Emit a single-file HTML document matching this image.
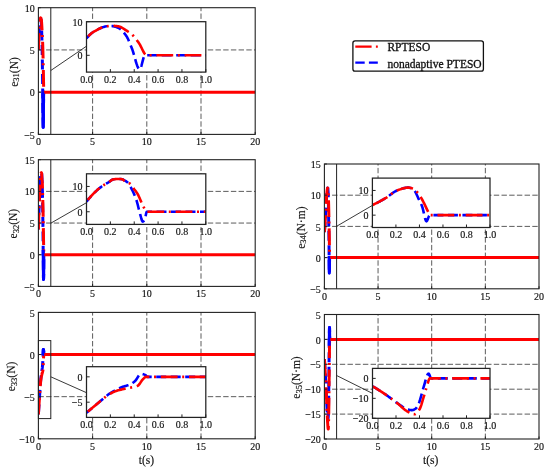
<!DOCTYPE html>
<html><head><meta charset="utf-8"><title>Estimation errors</title>
<style>
html,body{margin:0;padding:0;background:#fff;}
body{width:550px;height:469px;overflow:hidden;}
svg{display:block;}
.tk{font-family:'Liberation Serif','Times New Roman',serif;font-size:10px;fill:#111;stroke:#111;stroke-width:0.15px;}
.yl{font-family:'Liberation Serif','Times New Roman',serif;font-size:11.5px;fill:#111;stroke:#111;stroke-width:0.15px;}
.sub{font-size:8.5px;}
.lg{font-family:'Liberation Serif','Times New Roman',serif;font-size:11.5px;fill:#111;stroke:#111;stroke-width:0.3px;}
</style></head><body>
<svg width="550" height="469" viewBox="0 0 550 469">
<rect width="550" height="469" fill="#fff"/>
<g>
<line x1="92.6" y1="134.4" x2="92.6" y2="7.7" stroke="#5c5c5c" stroke-width="1" stroke-dasharray="5.4 2.3"/>
<line x1="146.8" y1="134.4" x2="146.8" y2="7.7" stroke="#5c5c5c" stroke-width="1" stroke-dasharray="5.4 2.3"/>
<line x1="201" y1="134.4" x2="201" y2="7.7" stroke="#5c5c5c" stroke-width="1" stroke-dasharray="5.4 2.3"/>
<line x1="38.4" y1="92.17" x2="255.2" y2="92.17" stroke="#5c5c5c" stroke-width="1" stroke-dasharray="5.4 2.3"/>
<line x1="38.4" y1="49.93" x2="255.2" y2="49.93" stroke="#5c5c5c" stroke-width="1" stroke-dasharray="5.4 2.3"/>
<clipPath id="m1"><rect x="38.4" y="7.7" width="216.8" height="126.7"/></clipPath>
<g clip-path="url(#m1)">
<path d="M38.4 49.93 L38.45 48.05 L38.51 46.23 L38.56 44.48 L38.62 42.82 L38.67 41.24 L38.73 39.76 L38.78 38.38 L38.83 37.12 L38.89 35.97 L38.94 34.93 L39 33.96 L39.05 33.06 L39.1 32.21 L39.16 31.4 L39.21 30.6 L39.27 29.8 L39.32 28.98 L39.38 28.14 L39.43 27.27 L39.48 26.4 L39.54 25.57 L39.59 24.79 L39.65 24.11 L39.7 23.53 L39.75 22.97 L39.81 22.41 L39.86 21.87 L39.92 21.34 L39.97 20.85 L40.03 20.39 L40.08 19.98 L40.13 19.63 L40.19 19.33 L40.24 19.11 L40.3 18.97 L40.35 18.9 L40.41 18.84 L40.46 18.78 L40.51 18.74 L40.57 18.71 L40.62 18.69 L40.68 18.68 L40.73 18.73 L40.78 18.87 L40.84 19.1 L40.89 19.41 L40.95 19.78 L41 20.22 L41.06 20.72 L41.11 21.26 L41.16 21.84 L41.22 22.46 L41.27 23.09 L41.33 23.75 L41.38 24.5 L41.44 25.42 L41.49 26.51 L41.54 27.75 L41.6 29.13 L41.65 30.65 L41.71 32.28 L41.76 34.03 L41.81 35.87 L41.87 37.8 L41.92 39.82 L41.98 41.9 L42.03 44.07 L42.09 46.58 L42.14 49.45 L42.19 52.61 L42.25 56.01 L42.3 59.58 L42.36 63.27 L42.41 67.01 L42.46 70.75 L42.52 74.43 L42.57 78.39 L42.63 82.94 L42.68 87.92 L42.74 93.17 L42.79 98.54 L42.84 103.89 L42.9 109.05 L42.95 113.87 L43.01 118.21 L43.06 121.91 L43.12 124.81 L43.17 126.76 L43.22 127.62 L43.28 126.82 L43.33 123.8 L43.39 119.15 L43.44 113.51 L43.49 107.49 L43.55 101.72 L43.6 96.83 L43.66 93.44 L43.71 92.17 L43.77 92.17 L43.82 92.17 L43.87 92.17 L43.93 92.17 L43.98 92.17 L44.04 92.17 L44.09 92.17 L44.15 92.17 L44.2 92.17 L44.25 92.17 L44.31 92.17 L44.36 92.17 L44.42 92.17 L44.47 92.17 L44.52 92.17 L44.58 92.17 L44.63 92.17 L44.69 92.17 L44.74 92.17 L44.8 92.17 L44.85 92.17 L44.9 92.17" fill="none" stroke="#0000ff" stroke-width="3.0" stroke-dasharray="10 4.5" stroke-linejoin="round"/>
<path d="M38.4 49.93 L38.45 48.05 L38.51 46.23 L38.56 44.48 L38.62 42.82 L38.67 41.24 L38.73 39.76 L38.78 38.38 L38.83 37.12 L38.89 35.97 L38.94 34.93 L39 33.96 L39.05 33.06 L39.1 32.21 L39.16 31.4 L39.21 30.6 L39.27 29.8 L39.32 28.98 L39.38 28.14 L39.43 27.27 L39.48 26.4 L39.54 25.57 L39.59 24.79 L39.65 24.11 L39.7 23.53 L39.75 22.99 L39.81 22.47 L39.86 21.98 L39.92 21.51 L39.97 21.07 L40.03 20.65 L40.08 20.26 L40.13 19.91 L40.19 19.58 L40.24 19.29 L40.3 19.03 L40.35 18.8 L40.41 18.56 L40.46 18.34 L40.51 18.14 L40.57 17.98 L40.62 17.87 L40.68 17.84 L40.73 17.85 L40.78 17.89 L40.84 17.97 L40.89 18.06 L40.95 18.18 L41 18.32 L41.06 18.48 L41.11 18.66 L41.16 18.86 L41.22 19.07 L41.27 19.29 L41.33 19.53 L41.38 19.84 L41.44 20.3 L41.49 20.88 L41.54 21.58 L41.6 22.37 L41.65 23.23 L41.71 24.15 L41.76 25.12 L41.81 26.12 L41.87 27.12 L41.92 28.12 L41.98 29.09 L42.03 30.03 L42.09 30.97 L42.14 31.93 L42.19 32.9 L42.25 33.91 L42.3 34.95 L42.36 36.03 L42.41 37.17 L42.46 38.36 L42.52 39.61 L42.57 40.94 L42.63 42.35 L42.68 43.91 L42.74 45.6 L42.79 47.41 L42.84 49.31 L42.9 51.29 L42.95 53.33 L43.01 55.42 L43.06 57.53 L43.12 59.65 L43.17 61.76 L43.22 64.06 L43.28 66.7 L43.33 69.59 L43.39 72.64 L43.44 75.76 L43.49 78.86 L43.55 81.84 L43.6 84.61 L43.66 87.09 L43.71 89.17 L43.77 90.77 L43.82 91.8 L43.87 92.17 L43.93 92.17 L43.98 92.17 L44.04 92.17 L44.09 92.17 L44.15 92.17 L44.2 92.17 L44.25 92.17 L44.31 92.17 L44.36 92.17 L44.42 92.17 L44.47 92.17 L44.52 92.17 L44.58 92.17 L44.63 92.17 L44.69 92.17 L44.74 92.17 L44.8 92.17 L44.85 92.17 L44.9 92.17" fill="none" stroke="#ff0000" stroke-width="3.0" stroke-dasharray="16.8 4.6 2 4.8" stroke-linejoin="round"/>
<path d="M42.74 93.17 L42.76 95.85 L42.79 98.54 L42.82 101.23 L42.84 103.89 L42.87 106.5 L42.9 109.05 L42.93 111.51 L42.95 113.87 L42.98 116.11 L43.01 118.21 L43.03 120.15 L43.06 121.91 L43.09 123.47 L43.12 124.81 L43.14 125.91 L43.17 126.76 L43.2 127.34 L43.22 127.62 L43.25 127.52 L43.28 126.82 L43.31 125.55 L43.33 123.8 L43.36 121.64 L43.39 119.15 L43.41 116.42 L43.44 113.51 L43.47 110.51 L43.49 107.49 L43.52 104.54 L43.55 101.72 L43.58 99.13 L43.6 96.83 L43.63 94.91 L43.66 93.44 L43.68 92.5 L43.71 92.17 L43.74 92.17 L43.77 92.17 L43.79 92.17 L43.82 92.17" fill="none" stroke="#0000ff" stroke-width="3.0" stroke-linejoin="round"/>
<line x1="44.36" y1="92.17" x2="255.2" y2="92.17" stroke="#ff0000" stroke-width="3.0"/>
</g>
<line x1="50.8" y1="7.7" x2="50.8" y2="134.4" stroke="#222" stroke-width="1"/>
<line x1="50.8" y1="70.5" x2="86.5" y2="46.2" stroke="#222" stroke-width="0.9"/>
<rect x="38.4" y="7.7" width="216.8" height="126.7" fill="none" stroke="#222" stroke-width="1.1"/>
<line x1="38.4" y1="134.4" x2="38.4" y2="131.9" stroke="#222" stroke-width="1"/>
<text x="38.4" y="145.2" text-anchor="middle" class="tk">0</text>
<line x1="92.6" y1="134.4" x2="92.6" y2="131.9" stroke="#222" stroke-width="1"/>
<text x="92.6" y="145.2" text-anchor="middle" class="tk">5</text>
<line x1="146.8" y1="134.4" x2="146.8" y2="131.9" stroke="#222" stroke-width="1"/>
<text x="146.8" y="145.2" text-anchor="middle" class="tk">10</text>
<line x1="201" y1="134.4" x2="201" y2="131.9" stroke="#222" stroke-width="1"/>
<text x="201" y="145.2" text-anchor="middle" class="tk">15</text>
<line x1="255.2" y1="134.4" x2="255.2" y2="131.9" stroke="#222" stroke-width="1"/>
<text x="255.2" y="145.2" text-anchor="middle" class="tk">20</text>
<line x1="38.4" y1="134.4" x2="40.9" y2="134.4" stroke="#222" stroke-width="1"/>
<text x="34.8" y="138.5" text-anchor="end" class="tk">−5</text>
<line x1="38.4" y1="92.17" x2="40.9" y2="92.17" stroke="#222" stroke-width="1"/>
<text x="34.8" y="96.27" text-anchor="end" class="tk">0</text>
<line x1="38.4" y1="49.93" x2="40.9" y2="49.93" stroke="#222" stroke-width="1"/>
<text x="34.8" y="54.03" text-anchor="end" class="tk">5</text>
<line x1="38.4" y1="7.7" x2="40.9" y2="7.7" stroke="#222" stroke-width="1"/>
<text x="34.8" y="11.8" text-anchor="end" class="tk">10</text>
<text transform="translate(18.15 72) rotate(-90)" text-anchor="middle" class="yl">e<tspan class="sub" dy="1.2">31</tspan><tspan dy="-1.2">(N)</tspan></text>
<rect x="86.5" y="21.7" width="119.3" height="50.4" fill="#fff"/>
<clipPath id="c1"><rect x="86.5" y="21.7" width="119.3" height="50.4"/></clipPath>
<path clip-path="url(#c1)" d="M86.5 38.5 L87.1 37.75 L87.69 37.03 L88.29 36.33 L88.89 35.67 L89.48 35.04 L90.08 34.45 L90.68 33.91 L91.27 33.4 L91.87 32.95 L92.47 32.53 L93.06 32.15 L93.66 31.79 L94.25 31.45 L94.85 31.13 L95.45 30.81 L96.04 30.49 L96.64 30.17 L97.24 29.83 L97.83 29.48 L98.43 29.14 L99.03 28.81 L99.62 28.5 L100.22 28.23 L100.82 28 L101.41 27.77 L102.01 27.55 L102.61 27.34 L103.2 27.13 L103.8 26.93 L104.39 26.75 L104.99 26.59 L105.59 26.44 L106.18 26.33 L106.78 26.24 L107.38 26.18 L107.97 26.15 L108.57 26.13 L109.17 26.11 L109.76 26.09 L110.36 26.08 L110.96 26.07 L111.55 26.07 L112.15 26.09 L112.75 26.14 L113.34 26.24 L113.94 26.36 L114.54 26.51 L115.13 26.68 L115.73 26.88 L116.33 27.09 L116.92 27.33 L117.52 27.57 L118.11 27.82 L118.71 28.08 L119.31 28.38 L119.9 28.75 L120.5 29.18 L121.1 29.68 L121.69 30.23 L122.29 30.83 L122.89 31.48 L123.48 32.17 L124.08 32.91 L124.68 33.68 L125.27 34.48 L125.87 35.3 L126.47 36.17 L127.06 37.17 L127.66 38.31 L128.25 39.56 L128.85 40.92 L129.45 42.34 L130.04 43.8 L130.64 45.29 L131.24 46.78 L131.83 48.24 L132.43 49.82 L133.03 51.63 L133.62 53.61 L134.22 55.7 L134.82 57.84 L135.41 59.96 L136.01 62.02 L136.61 63.94 L137.2 65.66 L137.8 67.13 L138.4 68.28 L138.99 69.06 L139.59 69.4 L140.19 69.08 L140.78 67.88 L141.38 66.04 L141.97 63.79 L142.57 61.4 L143.17 59.1 L143.76 57.16 L144.36 55.81 L144.96 55.3 L145.55 55.3 L146.15 55.3 L146.75 55.3 L147.34 55.3 L147.94 55.3 L148.54 55.3 L149.13 55.3 L149.73 55.3 L150.33 55.3 L150.92 55.3 L151.52 55.3 L152.12 55.3 L152.71 55.3 L153.31 55.3 L153.9 55.3 L154.5 55.3 L155.1 55.3 L155.69 55.3 L156.29 55.3 L156.89 55.3 L157.48 55.3 L158.08 55.3 L158.68 55.3 L159.27 55.3 L159.87 55.3 L160.47 55.3 L161.06 55.3 L161.66 55.3 L162.26 55.3 L162.85 55.3 L163.45 55.3 L164.05 55.3 L164.64 55.3 L165.24 55.3 L165.83 55.3 L166.43 55.3 L167.03 55.3 L167.62 55.3 L168.22 55.3 L168.82 55.3 L169.41 55.3 L170.01 55.3 L170.61 55.3 L171.2 55.3 L171.8 55.3 L172.4 55.3 L172.99 55.3 L173.59 55.3 L174.19 55.3 L174.78 55.3 L175.38 55.3 L175.98 55.3 L176.57 55.3 L177.17 55.3 L177.76 55.3 L178.36 55.3 L178.96 55.3 L179.55 55.3 L180.15 55.3 L180.75 55.3 L181.34 55.3 L181.94 55.3 L182.54 55.3 L183.13 55.3 L183.73 55.3 L184.33 55.3 L184.92 55.3 L185.52 55.3 L186.12 55.3 L186.71 55.3 L187.31 55.3 L187.91 55.3 L188.5 55.3 L189.1 55.3 L189.69 55.3 L190.29 55.3 L190.89 55.3 L191.48 55.3 L192.08 55.3 L192.68 55.3 L193.27 55.3 L193.87 55.3 L194.47 55.3 L195.06 55.3 L195.66 55.3 L196.26 55.3 L196.85 55.3 L197.45 55.3 L198.05 55.3 L198.64 55.3 L199.24 55.3 L199.84 55.3 L200.43 55.3 L201.03 55.3 L201.62 55.3 L202.22 55.3 L202.82 55.3 L203.41 55.3 L204.01 55.3 L204.61 55.3 L205.2 55.3 L205.8 55.3" fill="none" stroke="#0000ff" stroke-width="2.6" stroke-dasharray="10 4.5" stroke-dashoffset="0.02" stroke-linejoin="round"/>
<path clip-path="url(#c1)" d="M86.5 38.5 L87.1 37.75 L87.69 37.03 L88.29 36.33 L88.89 35.67 L89.48 35.04 L90.08 34.45 L90.68 33.91 L91.27 33.4 L91.87 32.95 L92.47 32.53 L93.06 32.15 L93.66 31.79 L94.25 31.45 L94.85 31.13 L95.45 30.81 L96.04 30.49 L96.64 30.17 L97.24 29.83 L97.83 29.48 L98.43 29.14 L99.03 28.81 L99.62 28.5 L100.22 28.23 L100.82 28 L101.41 27.78 L102.01 27.58 L102.61 27.38 L103.2 27.19 L103.8 27.02 L104.39 26.85 L104.99 26.7 L105.59 26.56 L106.18 26.43 L106.78 26.31 L107.38 26.21 L107.97 26.11 L108.57 26.02 L109.17 25.93 L109.76 25.85 L110.36 25.79 L110.96 25.75 L111.55 25.73 L112.15 25.74 L112.75 25.76 L113.34 25.78 L113.94 25.82 L114.54 25.87 L115.13 25.93 L115.73 25.99 L116.33 26.06 L116.92 26.14 L117.52 26.22 L118.11 26.31 L118.71 26.4 L119.31 26.53 L119.9 26.71 L120.5 26.94 L121.1 27.22 L121.69 27.53 L122.29 27.88 L122.89 28.25 L123.48 28.63 L124.08 29.03 L124.68 29.43 L125.27 29.82 L125.87 30.21 L126.47 30.58 L127.06 30.96 L127.66 31.34 L128.25 31.73 L128.85 32.13 L129.45 32.54 L130.04 32.97 L130.64 33.42 L131.24 33.9 L131.83 34.39 L132.43 34.92 L133.03 35.48 L133.62 36.1 L134.22 36.78 L134.82 37.5 L135.41 38.25 L136.01 39.04 L136.61 39.85 L137.2 40.68 L137.8 41.52 L138.4 42.37 L138.99 43.2 L139.59 44.12 L140.19 45.17 L140.78 46.32 L141.38 47.53 L141.97 48.78 L142.57 50.01 L143.17 51.19 L143.76 52.3 L144.36 53.28 L144.96 54.11 L145.55 54.75 L146.15 55.16 L146.75 55.3 L147.34 55.3 L147.94 55.3 L148.54 55.3 L149.13 55.3 L149.73 55.3 L150.33 55.3 L150.92 55.3 L151.52 55.3 L152.12 55.3 L152.71 55.3 L153.31 55.3 L153.9 55.3 L154.5 55.3 L155.1 55.3 L155.69 55.3 L156.29 55.3 L156.89 55.3 L157.48 55.3 L158.08 55.3 L158.68 55.3 L159.27 55.3 L159.87 55.3 L160.47 55.3 L161.06 55.3 L161.66 55.3 L162.26 55.3 L162.85 55.3 L163.45 55.3 L164.05 55.3 L164.64 55.3 L165.24 55.3 L165.83 55.3 L166.43 55.3 L167.03 55.3 L167.62 55.3 L168.22 55.3 L168.82 55.3 L169.41 55.3 L170.01 55.3 L170.61 55.3 L171.2 55.3 L171.8 55.3 L172.4 55.3 L172.99 55.3 L173.59 55.3 L174.19 55.3 L174.78 55.3 L175.38 55.3 L175.98 55.3 L176.57 55.3 L177.17 55.3 L177.76 55.3 L178.36 55.3 L178.96 55.3 L179.55 55.3 L180.15 55.3 L180.75 55.3 L181.34 55.3 L181.94 55.3 L182.54 55.3 L183.13 55.3 L183.73 55.3 L184.33 55.3 L184.92 55.3 L185.52 55.3 L186.12 55.3 L186.71 55.3 L187.31 55.3 L187.91 55.3 L188.5 55.3 L189.1 55.3 L189.69 55.3 L190.29 55.3 L190.89 55.3 L191.48 55.3 L192.08 55.3 L192.68 55.3 L193.27 55.3 L193.87 55.3 L194.47 55.3 L195.06 55.3 L195.66 55.3 L196.26 55.3 L196.85 55.3 L197.45 55.3 L198.05 55.3 L198.64 55.3 L199.24 55.3 L199.84 55.3 L200.43 55.3 L201.03 55.3 L201.62 55.3 L202.22 55.3 L202.82 55.3 L203.41 55.3 L204.01 55.3 L204.61 55.3 L205.2 55.3 L205.8 55.3" fill="none" stroke="#ff0000" stroke-width="2.6" stroke-dasharray="16.8 4.6 2 4.8" stroke-dashoffset="25.44" stroke-linejoin="round"/>
<rect x="86.5" y="21.7" width="119.3" height="50.4" fill="none" stroke="#222" stroke-width="1.25"/>
<line x1="86.5" y1="72.1" x2="86.5" y2="69.1" stroke="#222" stroke-width="1"/>
<text x="86.5" y="82.5" text-anchor="middle" class="tk">0.0</text>
<line x1="110.36" y1="72.1" x2="110.36" y2="69.1" stroke="#222" stroke-width="1"/>
<text x="110.36" y="82.5" text-anchor="middle" class="tk">0.2</text>
<line x1="134.22" y1="72.1" x2="134.22" y2="69.1" stroke="#222" stroke-width="1"/>
<text x="134.22" y="82.5" text-anchor="middle" class="tk">0.4</text>
<line x1="158.08" y1="72.1" x2="158.08" y2="69.1" stroke="#222" stroke-width="1"/>
<text x="158.08" y="82.5" text-anchor="middle" class="tk">0.6</text>
<line x1="181.94" y1="72.1" x2="181.94" y2="69.1" stroke="#222" stroke-width="1"/>
<text x="181.94" y="82.5" text-anchor="middle" class="tk">0.8</text>
<line x1="205.8" y1="72.1" x2="205.8" y2="69.1" stroke="#222" stroke-width="1"/>
<text x="205.8" y="82.5" text-anchor="middle" class="tk">1.0</text>
<line x1="86.5" y1="55.3" x2="89.7" y2="55.3" stroke="#222" stroke-width="1"/>
<text x="82.5" y="59.3" text-anchor="end" class="tk">0</text>
<line x1="86.5" y1="21.7" x2="89.7" y2="21.7" stroke="#222" stroke-width="1"/>
<text x="82.5" y="25.7" text-anchor="end" class="tk">10</text>
</g>
<g>
<line x1="92.6" y1="286.4" x2="92.6" y2="159.7" stroke="#5c5c5c" stroke-width="1" stroke-dasharray="5.4 2.3"/>
<line x1="146.8" y1="286.4" x2="146.8" y2="159.7" stroke="#5c5c5c" stroke-width="1" stroke-dasharray="5.4 2.3"/>
<line x1="201" y1="286.4" x2="201" y2="159.7" stroke="#5c5c5c" stroke-width="1" stroke-dasharray="5.4 2.3"/>
<line x1="38.4" y1="254.72" x2="255.2" y2="254.72" stroke="#5c5c5c" stroke-width="1" stroke-dasharray="5.4 2.3"/>
<line x1="38.4" y1="223.05" x2="255.2" y2="223.05" stroke="#5c5c5c" stroke-width="1" stroke-dasharray="5.4 2.3"/>
<line x1="38.4" y1="191.38" x2="255.2" y2="191.38" stroke="#5c5c5c" stroke-width="1" stroke-dasharray="5.4 2.3"/>
<clipPath id="m2"><rect x="38.4" y="159.7" width="216.8" height="126.7"/></clipPath>
<g clip-path="url(#m2)">
<path d="M38.4 229.58 L38.45 227.64 L38.51 225.75 L38.56 223.89 L38.62 222.06 L38.67 220.27 L38.73 218.53 L38.78 216.82 L38.83 215.16 L38.89 213.54 L38.94 211.95 L39 210.39 L39.05 208.86 L39.1 207.37 L39.16 205.91 L39.21 204.5 L39.27 203.11 L39.32 201.77 L39.38 200.47 L39.43 199.18 L39.48 197.92 L39.54 196.68 L39.59 195.47 L39.65 194.29 L39.7 193.13 L39.75 192.01 L39.81 190.92 L39.86 189.86 L39.92 188.84 L39.97 187.86 L40.03 186.93 L40.08 186.04 L40.13 185.17 L40.19 184.32 L40.24 183.47 L40.3 182.62 L40.35 181.76 L40.41 180.87 L40.46 179.87 L40.51 178.79 L40.57 177.68 L40.62 176.61 L40.68 175.61 L40.73 174.76 L40.78 174.1 L40.84 173.68 L40.89 173.48 L40.95 173.29 L41 173.12 L41.06 172.97 L41.11 172.85 L41.16 172.75 L41.22 172.68 L41.27 172.63 L41.33 172.62 L41.38 172.67 L41.44 172.76 L41.49 172.91 L41.54 173.1 L41.6 173.33 L41.65 173.58 L41.71 173.98 L41.76 174.66 L41.81 175.53 L41.87 176.45 L41.92 177.32 L41.98 178.19 L42.03 179.13 L42.09 180.22 L42.14 181.52 L42.19 183.17 L42.25 185.16 L42.3 187.46 L42.36 189.99 L42.41 192.73 L42.46 195.6 L42.52 198.57 L42.57 201.58 L42.63 204.61 L42.68 207.81 L42.74 211.21 L42.79 214.82 L42.84 218.66 L42.9 222.75 L42.95 227.13 L43.01 232.19 L43.06 237.9 L43.12 243.97 L43.17 250.1 L43.22 255.99 L43.28 261.35 L43.33 266.57 L43.39 272.22 L43.44 276.95 L43.49 279.35 L43.55 279.11 L43.6 277.94 L43.66 276.13 L43.71 273.74 L43.77 267.06 L43.82 258.78 L43.87 254.72 L43.93 254.72 L43.98 254.72 L44.04 254.72 L44.09 254.72 L44.15 254.72 L44.2 254.72 L44.25 254.72 L44.31 254.72 L44.36 254.72 L44.42 254.72 L44.47 254.72 L44.52 254.72 L44.58 254.72 L44.63 254.72 L44.69 254.72 L44.74 254.72 L44.8 254.72 L44.85 254.72 L44.9 254.72" fill="none" stroke="#0000ff" stroke-width="3.0" stroke-dasharray="10 4.5" stroke-linejoin="round"/>
<path d="M38.4 229.58 L38.45 227.64 L38.51 225.75 L38.56 223.89 L38.62 222.06 L38.67 220.27 L38.73 218.53 L38.78 216.82 L38.83 215.16 L38.89 213.54 L38.94 211.95 L39 210.39 L39.05 208.86 L39.1 207.37 L39.16 205.91 L39.21 204.5 L39.27 203.11 L39.32 201.77 L39.38 200.47 L39.43 199.18 L39.48 197.92 L39.54 196.68 L39.59 195.47 L39.65 194.29 L39.7 193.13 L39.75 192.01 L39.81 190.92 L39.86 189.86 L39.92 188.84 L39.97 187.86 L40.03 186.93 L40.08 186.04 L40.13 185.17 L40.19 184.32 L40.24 183.47 L40.3 182.62 L40.35 181.76 L40.41 180.87 L40.46 179.87 L40.51 178.79 L40.57 177.68 L40.62 176.61 L40.68 175.61 L40.73 174.76 L40.78 174.1 L40.84 173.68 L40.89 173.48 L40.95 173.29 L41 173.12 L41.06 172.97 L41.11 172.85 L41.16 172.75 L41.22 172.68 L41.27 172.63 L41.33 172.62 L41.38 172.66 L41.44 172.76 L41.49 172.9 L41.54 173.09 L41.6 173.31 L41.65 173.58 L41.71 174.1 L41.76 175.16 L41.81 176.46 L41.87 177.68 L41.92 178.58 L41.98 179.32 L42.03 179.98 L42.09 180.59 L42.14 181.19 L42.19 181.84 L42.25 182.56 L42.3 183.4 L42.36 184.41 L42.41 185.75 L42.46 187.51 L42.52 189.55 L42.57 191.77 L42.63 194.04 L42.68 196.24 L42.74 198.29 L42.79 200.25 L42.84 202.2 L42.9 204.2 L42.95 206.29 L43.01 208.55 L43.06 211.01 L43.12 213.86 L43.17 217.1 L43.22 220.55 L43.28 224.07 L43.33 227.47 L43.39 230.75 L43.44 234.11 L43.49 237.46 L43.55 240.66 L43.6 243.62 L43.66 246.29 L43.71 249.16 L43.77 251.89 L43.82 253.92 L43.87 254.72 L43.93 254.72 L43.98 254.72 L44.04 254.72 L44.09 254.72 L44.15 254.72 L44.2 254.72 L44.25 254.72 L44.31 254.72 L44.36 254.72 L44.42 254.72 L44.47 254.72 L44.52 254.72 L44.58 254.72 L44.63 254.72 L44.69 254.72 L44.74 254.72 L44.8 254.72 L44.85 254.72 L44.9 254.72" fill="none" stroke="#ff0000" stroke-width="3.0" stroke-dasharray="16.8 4.6 2 4.8" stroke-linejoin="round"/>
<path d="M43.17 250.1 L43.19 252.21 L43.21 254.27 L43.23 256.28 L43.25 258.22 L43.26 260.07 L43.28 261.84 L43.3 263.58 L43.32 265.45 L43.34 267.42 L43.36 269.42 L43.38 271.4 L43.4 273.29 L43.42 275.03 L43.44 276.56 L43.45 277.82 L43.47 278.76 L43.49 279.31 L43.51 279.43 L43.53 279.33 L43.55 279.11 L43.57 278.79 L43.59 278.37 L43.61 277.86 L43.62 277.28 L43.64 276.63 L43.66 275.92 L43.68 275.16 L43.7 274.36 L43.72 273.07 L43.74 270.96 L43.76 268.31 L43.78 265.35 L43.8 262.33 L43.81 259.52 L43.83 257.14 L43.85 255.47 L43.87 254.74 L43.89 254.72 L43.91 254.72 L43.93 254.72" fill="none" stroke="#0000ff" stroke-width="3.0" stroke-linejoin="round"/>
<line x1="44.36" y1="254.72" x2="255.2" y2="254.72" stroke="#ff0000" stroke-width="3.0"/>
</g>
<line x1="50.8" y1="159.7" x2="50.8" y2="286.4" stroke="#222" stroke-width="1"/>
<line x1="50.8" y1="223.2" x2="86.5" y2="202.7" stroke="#222" stroke-width="0.9"/>
<rect x="38.4" y="159.7" width="216.8" height="126.7" fill="none" stroke="#222" stroke-width="1.1"/>
<line x1="38.4" y1="286.4" x2="38.4" y2="283.9" stroke="#222" stroke-width="1"/>
<text x="38.4" y="297.2" text-anchor="middle" class="tk">0</text>
<line x1="92.6" y1="286.4" x2="92.6" y2="283.9" stroke="#222" stroke-width="1"/>
<text x="92.6" y="297.2" text-anchor="middle" class="tk">5</text>
<line x1="146.8" y1="286.4" x2="146.8" y2="283.9" stroke="#222" stroke-width="1"/>
<text x="146.8" y="297.2" text-anchor="middle" class="tk">10</text>
<line x1="201" y1="286.4" x2="201" y2="283.9" stroke="#222" stroke-width="1"/>
<text x="201" y="297.2" text-anchor="middle" class="tk">15</text>
<line x1="255.2" y1="286.4" x2="255.2" y2="283.9" stroke="#222" stroke-width="1"/>
<text x="255.2" y="297.2" text-anchor="middle" class="tk">20</text>
<line x1="38.4" y1="286.4" x2="40.9" y2="286.4" stroke="#222" stroke-width="1"/>
<text x="34.8" y="290.5" text-anchor="end" class="tk">−5</text>
<line x1="38.4" y1="254.72" x2="40.9" y2="254.72" stroke="#222" stroke-width="1"/>
<text x="34.8" y="258.82" text-anchor="end" class="tk">0</text>
<line x1="38.4" y1="223.05" x2="40.9" y2="223.05" stroke="#222" stroke-width="1"/>
<text x="34.8" y="227.15" text-anchor="end" class="tk">5</text>
<line x1="38.4" y1="191.38" x2="40.9" y2="191.38" stroke="#222" stroke-width="1"/>
<text x="34.8" y="195.47" text-anchor="end" class="tk">10</text>
<line x1="38.4" y1="159.7" x2="40.9" y2="159.7" stroke="#222" stroke-width="1"/>
<text x="34.8" y="163.8" text-anchor="end" class="tk">15</text>
<text transform="translate(17.3 223.6) rotate(-90)" text-anchor="middle" class="yl">e<tspan class="sub" dy="1.2">32</tspan><tspan dy="-1.2">(N)</tspan></text>
<rect x="86.5" y="173.8" width="119.3" height="50.6" fill="#fff"/>
<clipPath id="c2"><rect x="86.5" y="173.8" width="119.3" height="50.6"/></clipPath>
<path clip-path="url(#c2)" d="M86.5 201.71 L87.1 200.93 L87.69 200.18 L88.29 199.43 L88.89 198.7 L89.48 197.99 L90.08 197.29 L90.68 196.61 L91.27 195.95 L91.87 195.3 L92.47 194.67 L93.06 194.04 L93.66 193.43 L94.25 192.84 L94.85 192.26 L95.45 191.69 L96.04 191.14 L96.64 190.6 L97.24 190.08 L97.83 189.57 L98.43 189.06 L99.03 188.57 L99.62 188.09 L100.22 187.61 L100.82 187.15 L101.41 186.7 L102.01 186.27 L102.61 185.85 L103.2 185.44 L103.8 185.05 L104.39 184.68 L104.99 184.32 L105.59 183.97 L106.18 183.63 L106.78 183.29 L107.38 182.96 L107.97 182.61 L108.57 182.26 L109.17 181.86 L109.76 181.42 L110.36 180.98 L110.96 180.55 L111.55 180.16 L112.15 179.81 L112.75 179.55 L113.34 179.39 L113.94 179.3 L114.54 179.23 L115.13 179.16 L115.73 179.1 L116.33 179.05 L116.92 179.01 L117.52 178.98 L118.11 178.97 L118.71 178.96 L119.31 178.98 L119.9 179.02 L120.5 179.08 L121.1 179.15 L121.69 179.24 L122.29 179.34 L122.89 179.5 L123.48 179.78 L124.08 180.12 L124.68 180.49 L125.27 180.84 L125.87 181.18 L126.47 181.56 L127.06 181.99 L127.66 182.52 L128.25 183.17 L128.85 183.97 L129.45 184.88 L130.04 185.9 L130.64 186.99 L131.24 188.14 L131.83 189.32 L132.43 190.52 L133.03 191.74 L133.62 193.01 L134.22 194.37 L134.82 195.81 L135.41 197.35 L136.01 198.98 L136.61 200.73 L137.2 202.75 L137.8 205.03 L138.4 207.46 L138.99 209.9 L139.59 212.26 L140.19 214.39 L140.78 216.48 L141.38 218.74 L141.97 220.63 L142.57 221.59 L143.17 221.49 L143.76 221.02 L144.36 220.3 L144.96 219.34 L145.55 216.68 L146.15 213.37 L146.75 211.75 L147.34 211.75 L147.94 211.75 L148.54 211.75 L149.13 211.75 L149.73 211.75 L150.33 211.75 L150.92 211.75 L151.52 211.75 L152.12 211.75 L152.71 211.75 L153.31 211.75 L153.9 211.75 L154.5 211.75 L155.1 211.75 L155.69 211.75 L156.29 211.75 L156.89 211.75 L157.48 211.75 L158.08 211.75 L158.68 211.75 L159.27 211.75 L159.87 211.75 L160.47 211.75 L161.06 211.75 L161.66 211.75 L162.26 211.75 L162.85 211.75 L163.45 211.75 L164.05 211.75 L164.64 211.75 L165.24 211.75 L165.83 211.75 L166.43 211.75 L167.03 211.75 L167.62 211.75 L168.22 211.75 L168.82 211.75 L169.41 211.75 L170.01 211.75 L170.61 211.75 L171.2 211.75 L171.8 211.75 L172.4 211.75 L172.99 211.75 L173.59 211.75 L174.19 211.75 L174.78 211.75 L175.38 211.75 L175.98 211.75 L176.57 211.75 L177.17 211.75 L177.76 211.75 L178.36 211.75 L178.96 211.75 L179.55 211.75 L180.15 211.75 L180.75 211.75 L181.34 211.75 L181.94 211.75 L182.54 211.75 L183.13 211.75 L183.73 211.75 L184.33 211.75 L184.92 211.75 L185.52 211.75 L186.12 211.75 L186.71 211.75 L187.31 211.75 L187.91 211.75 L188.5 211.75 L189.1 211.75 L189.69 211.75 L190.29 211.75 L190.89 211.75 L191.48 211.75 L192.08 211.75 L192.68 211.75 L193.27 211.75 L193.87 211.75 L194.47 211.75 L195.06 211.75 L195.66 211.75 L196.26 211.75 L196.85 211.75 L197.45 211.75 L198.05 211.75 L198.64 211.75 L199.24 211.75 L199.84 211.75 L200.43 211.75 L201.03 211.75 L201.62 211.75 L202.22 211.75 L202.82 211.75 L203.41 211.75 L204.01 211.75 L204.61 211.75 L205.2 211.75 L205.8 211.75" fill="none" stroke="#0000ff" stroke-width="2.6" stroke-dasharray="10 4.5" stroke-dashoffset="2.33" stroke-linejoin="round"/>
<path clip-path="url(#c2)" d="M86.5 201.71 L87.1 200.93 L87.69 200.18 L88.29 199.43 L88.89 198.7 L89.48 197.99 L90.08 197.29 L90.68 196.61 L91.27 195.95 L91.87 195.3 L92.47 194.67 L93.06 194.04 L93.66 193.43 L94.25 192.84 L94.85 192.26 L95.45 191.69 L96.04 191.14 L96.64 190.6 L97.24 190.08 L97.83 189.57 L98.43 189.06 L99.03 188.57 L99.62 188.09 L100.22 187.61 L100.82 187.15 L101.41 186.7 L102.01 186.27 L102.61 185.85 L103.2 185.44 L103.8 185.05 L104.39 184.68 L104.99 184.32 L105.59 183.97 L106.18 183.63 L106.78 183.29 L107.38 182.96 L107.97 182.61 L108.57 182.26 L109.17 181.86 L109.76 181.42 L110.36 180.98 L110.96 180.55 L111.55 180.16 L112.15 179.81 L112.75 179.55 L113.34 179.39 L113.94 179.3 L114.54 179.23 L115.13 179.16 L115.73 179.1 L116.33 179.05 L116.92 179.01 L117.52 178.98 L118.11 178.97 L118.71 178.96 L119.31 178.98 L119.9 179.01 L120.5 179.07 L121.1 179.15 L121.69 179.24 L122.29 179.34 L122.89 179.55 L123.48 179.98 L124.08 180.49 L124.68 180.98 L125.27 181.34 L125.87 181.64 L126.47 181.9 L127.06 182.14 L127.66 182.38 L128.25 182.64 L128.85 182.93 L129.45 183.27 L130.04 183.67 L130.64 184.2 L131.24 184.9 L131.83 185.72 L132.43 186.61 L133.03 187.51 L133.62 188.39 L134.22 189.21 L134.82 189.99 L135.41 190.77 L136.01 191.57 L136.61 192.41 L137.2 193.31 L137.8 194.29 L138.4 195.43 L138.99 196.72 L139.59 198.1 L140.19 199.51 L140.78 200.86 L141.38 202.17 L141.97 203.52 L142.57 204.85 L143.17 206.13 L143.76 207.31 L144.36 208.38 L144.96 209.53 L145.55 210.62 L146.15 211.43 L146.75 211.75 L147.34 211.75 L147.94 211.75 L148.54 211.75 L149.13 211.75 L149.73 211.75 L150.33 211.75 L150.92 211.75 L151.52 211.75 L152.12 211.75 L152.71 211.75 L153.31 211.75 L153.9 211.75 L154.5 211.75 L155.1 211.75 L155.69 211.75 L156.29 211.75 L156.89 211.75 L157.48 211.75 L158.08 211.75 L158.68 211.75 L159.27 211.75 L159.87 211.75 L160.47 211.75 L161.06 211.75 L161.66 211.75 L162.26 211.75 L162.85 211.75 L163.45 211.75 L164.05 211.75 L164.64 211.75 L165.24 211.75 L165.83 211.75 L166.43 211.75 L167.03 211.75 L167.62 211.75 L168.22 211.75 L168.82 211.75 L169.41 211.75 L170.01 211.75 L170.61 211.75 L171.2 211.75 L171.8 211.75 L172.4 211.75 L172.99 211.75 L173.59 211.75 L174.19 211.75 L174.78 211.75 L175.38 211.75 L175.98 211.75 L176.57 211.75 L177.17 211.75 L177.76 211.75 L178.36 211.75 L178.96 211.75 L179.55 211.75 L180.15 211.75 L180.75 211.75 L181.34 211.75 L181.94 211.75 L182.54 211.75 L183.13 211.75 L183.73 211.75 L184.33 211.75 L184.92 211.75 L185.52 211.75 L186.12 211.75 L186.71 211.75 L187.31 211.75 L187.91 211.75 L188.5 211.75 L189.1 211.75 L189.69 211.75 L190.29 211.75 L190.89 211.75 L191.48 211.75 L192.08 211.75 L192.68 211.75 L193.27 211.75 L193.87 211.75 L194.47 211.75 L195.06 211.75 L195.66 211.75 L196.26 211.75 L196.85 211.75 L197.45 211.75 L198.05 211.75 L198.64 211.75 L199.24 211.75 L199.84 211.75 L200.43 211.75 L201.03 211.75 L201.62 211.75 L202.22 211.75 L202.82 211.75 L203.41 211.75 L204.01 211.75 L204.61 211.75 L205.2 211.75 L205.8 211.75" fill="none" stroke="#ff0000" stroke-width="2.6" stroke-dasharray="16.8 4.6 2 4.8" stroke-dashoffset="25.99" stroke-linejoin="round"/>
<rect x="86.5" y="173.8" width="119.3" height="50.6" fill="none" stroke="#222" stroke-width="1.25"/>
<line x1="86.5" y1="224.4" x2="86.5" y2="221.4" stroke="#222" stroke-width="1"/>
<text x="86.5" y="234.8" text-anchor="middle" class="tk">0.0</text>
<line x1="110.36" y1="224.4" x2="110.36" y2="221.4" stroke="#222" stroke-width="1"/>
<text x="110.36" y="234.8" text-anchor="middle" class="tk">0.2</text>
<line x1="134.22" y1="224.4" x2="134.22" y2="221.4" stroke="#222" stroke-width="1"/>
<text x="134.22" y="234.8" text-anchor="middle" class="tk">0.4</text>
<line x1="158.08" y1="224.4" x2="158.08" y2="221.4" stroke="#222" stroke-width="1"/>
<text x="158.08" y="234.8" text-anchor="middle" class="tk">0.6</text>
<line x1="181.94" y1="224.4" x2="181.94" y2="221.4" stroke="#222" stroke-width="1"/>
<text x="181.94" y="234.8" text-anchor="middle" class="tk">0.8</text>
<line x1="205.8" y1="224.4" x2="205.8" y2="221.4" stroke="#222" stroke-width="1"/>
<text x="205.8" y="234.8" text-anchor="middle" class="tk">1.0</text>
<line x1="86.5" y1="211.75" x2="89.7" y2="211.75" stroke="#222" stroke-width="1"/>
<text x="82.5" y="215.75" text-anchor="end" class="tk">0</text>
<line x1="86.5" y1="186.45" x2="89.7" y2="186.45" stroke="#222" stroke-width="1"/>
<text x="82.5" y="190.45" text-anchor="end" class="tk">10</text>
</g>
<g>
<line x1="92.6" y1="438.8" x2="92.6" y2="312.4" stroke="#5c5c5c" stroke-width="1" stroke-dasharray="5.4 2.3"/>
<line x1="146.8" y1="438.8" x2="146.8" y2="312.4" stroke="#5c5c5c" stroke-width="1" stroke-dasharray="5.4 2.3"/>
<line x1="201" y1="438.8" x2="201" y2="312.4" stroke="#5c5c5c" stroke-width="1" stroke-dasharray="5.4 2.3"/>
<line x1="38.4" y1="396.67" x2="255.2" y2="396.67" stroke="#5c5c5c" stroke-width="1" stroke-dasharray="5.4 2.3"/>
<line x1="38.4" y1="354.53" x2="255.2" y2="354.53" stroke="#5c5c5c" stroke-width="1" stroke-dasharray="5.4 2.3"/>
<clipPath id="m3"><rect x="38.4" y="312.4" width="216.8" height="126.4"/></clipPath>
<g clip-path="url(#m3)">
<path d="M38.4 414.36 L38.45 413.51 L38.51 412.65 L38.56 411.8 L38.62 410.95 L38.67 410.1 L38.73 409.26 L38.78 408.41 L38.83 407.57 L38.89 406.73 L38.94 405.89 L39 405.05 L39.05 404.21 L39.1 403.37 L39.16 402.54 L39.21 401.71 L39.27 400.87 L39.32 400.04 L39.38 399.22 L39.43 398.39 L39.48 397.56 L39.54 396.74 L39.59 395.92 L39.65 395.08 L39.7 394.23 L39.75 393.38 L39.81 392.52 L39.86 391.66 L39.92 390.8 L39.97 389.94 L40.03 389.09 L40.08 388.25 L40.13 387.42 L40.19 386.61 L40.24 385.81 L40.3 385.04 L40.35 384.29 L40.41 383.57 L40.46 382.87 L40.51 382.21 L40.57 381.58 L40.62 380.97 L40.68 380.38 L40.73 379.81 L40.78 379.26 L40.84 378.72 L40.89 378.19 L40.95 377.67 L41 377.16 L41.06 376.65 L41.11 376.14 L41.16 375.63 L41.22 375.13 L41.27 374.63 L41.33 374.14 L41.38 373.66 L41.44 373.19 L41.49 372.73 L41.54 372.29 L41.6 371.87 L41.65 371.46 L41.71 371.09 L41.76 370.74 L41.81 370.42 L41.87 370.12 L41.92 369.84 L41.98 369.56 L42.03 369.27 L42.09 368.98 L42.14 368.68 L42.19 368.35 L42.25 368 L42.3 367.61 L42.36 367.17 L42.41 366.69 L42.46 366.14 L42.52 365.54 L42.57 364.88 L42.63 364.18 L42.68 363.42 L42.74 362.63 L42.79 361.79 L42.84 360.89 L42.9 359.7 L42.95 358.25 L43.01 356.64 L43.06 354.98 L43.12 353.37 L43.17 351.91 L43.22 350.71 L43.28 349.87 L43.33 349.49 L43.39 349.51 L43.44 349.63 L43.49 349.82 L43.55 350.09 L43.6 350.42 L43.66 350.8 L43.71 351.22 L43.77 351.7 L43.82 352.73 L43.87 353.95 L43.93 354.53 L43.98 354.53 L44.04 354.53 L44.09 354.53 L44.15 354.53 L44.2 354.53 L44.25 354.53 L44.31 354.53 L44.36 354.53 L44.42 354.53 L44.47 354.53 L44.52 354.53 L44.58 354.53 L44.63 354.53 L44.69 354.53 L44.74 354.53 L44.8 354.53 L44.85 354.53 L44.9 354.53" fill="none" stroke="#0000ff" stroke-width="3.0" stroke-dasharray="10 4.5" stroke-linejoin="round"/>
<path d="M38.4 414.36 L38.45 413.48 L38.51 412.61 L38.56 411.73 L38.62 410.86 L38.67 410 L38.73 409.14 L38.78 408.28 L38.83 407.43 L38.89 406.58 L38.94 405.74 L39 404.9 L39.05 404.06 L39.1 403.23 L39.16 402.41 L39.21 401.58 L39.27 400.76 L39.32 399.95 L39.38 399.13 L39.43 398.33 L39.48 397.52 L39.54 396.72 L39.59 395.93 L39.65 395.12 L39.7 394.31 L39.75 393.49 L39.81 392.66 L39.86 391.84 L39.92 391.02 L39.97 390.21 L40.03 389.4 L40.08 388.61 L40.13 387.83 L40.19 387.07 L40.24 386.34 L40.3 385.62 L40.35 384.94 L40.41 384.28 L40.46 383.66 L40.51 383.07 L40.57 382.5 L40.62 381.95 L40.68 381.41 L40.73 380.89 L40.78 380.39 L40.84 379.91 L40.89 379.46 L40.95 379.03 L41 378.63 L41.06 378.27 L41.11 377.93 L41.16 377.61 L41.22 377.31 L41.27 377.02 L41.33 376.75 L41.38 376.48 L41.44 376.23 L41.49 375.99 L41.54 375.75 L41.6 375.52 L41.65 375.3 L41.71 375.08 L41.76 374.86 L41.81 374.64 L41.87 374.42 L41.92 374.21 L41.98 374 L42.03 373.81 L42.09 373.62 L42.14 373.44 L42.19 373.26 L42.25 373.08 L42.3 372.89 L42.36 372.7 L42.41 372.49 L42.46 372.27 L42.52 372.05 L42.57 371.84 L42.63 371.64 L42.68 371.43 L42.74 371.21 L42.79 370.97 L42.84 370.71 L42.9 370.42 L42.95 370.09 L43.01 369.71 L43.06 369.28 L43.12 368.61 L43.17 367.57 L43.22 366.27 L43.28 364.81 L43.33 363.26 L43.39 361.74 L43.44 360.34 L43.49 359.14 L43.55 358.17 L43.6 357.16 L43.66 356.18 L43.71 355.34 L43.77 354.75 L43.82 354.53 L43.87 354.53 L43.93 354.53 L43.98 354.53 L44.04 354.53 L44.09 354.53 L44.15 354.53 L44.2 354.53 L44.25 354.53 L44.31 354.53 L44.36 354.53 L44.42 354.53 L44.47 354.53 L44.52 354.53 L44.58 354.53 L44.63 354.53 L44.69 354.53 L44.74 354.53 L44.8 354.53 L44.85 354.53 L44.9 354.53" fill="none" stroke="#ff0000" stroke-width="3.0" stroke-dasharray="16.8 4.6 2 4.8" stroke-linejoin="round"/>
<path d="M43.06 354.98 L43.09 354.24 L43.11 353.53 L43.13 352.84 L43.16 352.19 L43.18 351.58 L43.21 351.04 L43.23 350.56 L43.26 350.16 L43.28 349.84 L43.31 349.61 L43.33 349.5 L43.35 349.48 L43.38 349.5 L43.4 349.53 L43.43 349.59 L43.45 349.66 L43.48 349.75 L43.5 349.85 L43.52 349.96 L43.55 350.09 L43.57 350.24 L43.6 350.39 L43.62 350.55 L43.65 350.72 L43.67 350.91 L43.7 351.09 L43.72 351.29 L43.74 351.49 L43.77 351.73 L43.79 352.14 L43.82 352.67 L43.84 353.24 L43.87 353.79 L43.89 354.23 L43.91 354.49 L43.94 354.53 L43.96 354.53 L43.99 354.53 L44.01 354.53 L44.04 354.53" fill="none" stroke="#0000ff" stroke-width="3.0" stroke-linejoin="round"/>
<line x1="44.36" y1="354.53" x2="255.2" y2="354.53" stroke="#ff0000" stroke-width="3.0"/>
</g>
<rect x="38.4" y="340.6" width="12.4" height="78" fill="none" stroke="#222" stroke-width="1"/>
<line x1="50.8" y1="376.8" x2="86.5" y2="392.7" stroke="#222" stroke-width="0.9"/>
<rect x="38.4" y="312.4" width="216.8" height="126.4" fill="none" stroke="#222" stroke-width="1.1"/>
<line x1="38.4" y1="438.8" x2="38.4" y2="436.3" stroke="#222" stroke-width="1"/>
<text x="38.4" y="449.6" text-anchor="middle" class="tk">0</text>
<line x1="92.6" y1="438.8" x2="92.6" y2="436.3" stroke="#222" stroke-width="1"/>
<text x="92.6" y="449.6" text-anchor="middle" class="tk">5</text>
<line x1="146.8" y1="438.8" x2="146.8" y2="436.3" stroke="#222" stroke-width="1"/>
<text x="146.8" y="449.6" text-anchor="middle" class="tk">10</text>
<line x1="201" y1="438.8" x2="201" y2="436.3" stroke="#222" stroke-width="1"/>
<text x="201" y="449.6" text-anchor="middle" class="tk">15</text>
<line x1="255.2" y1="438.8" x2="255.2" y2="436.3" stroke="#222" stroke-width="1"/>
<text x="255.2" y="449.6" text-anchor="middle" class="tk">20</text>
<line x1="38.4" y1="438.8" x2="40.9" y2="438.8" stroke="#222" stroke-width="1"/>
<text x="34.8" y="442.9" text-anchor="end" class="tk">−10</text>
<line x1="38.4" y1="396.67" x2="40.9" y2="396.67" stroke="#222" stroke-width="1"/>
<text x="34.8" y="400.77" text-anchor="end" class="tk">−5</text>
<line x1="38.4" y1="354.53" x2="40.9" y2="354.53" stroke="#222" stroke-width="1"/>
<text x="34.8" y="358.63" text-anchor="end" class="tk">0</text>
<line x1="38.4" y1="312.4" x2="40.9" y2="312.4" stroke="#222" stroke-width="1"/>
<text x="34.8" y="316.5" text-anchor="end" class="tk">5</text>
<text transform="translate(15.3 376.5) rotate(-90)" text-anchor="middle" class="yl">e<tspan class="sub" dy="1.2">33</tspan><tspan dy="-1.2">(N)</tspan></text>
<rect x="86.5" y="366.7" width="119.3" height="50.7" fill="#fff"/>
<clipPath id="c3"><rect x="86.5" y="366.7" width="119.3" height="50.7"/></clipPath>
<path clip-path="url(#c3)" d="M86.5 412.84 L87.1 412.32 L87.69 411.81 L88.29 411.3 L88.89 410.79 L89.48 410.28 L90.08 409.77 L90.68 409.26 L91.27 408.75 L91.87 408.24 L92.47 407.74 L93.06 407.23 L93.66 406.73 L94.25 406.23 L94.85 405.72 L95.45 405.22 L96.04 404.72 L96.64 404.22 L97.24 403.72 L97.83 403.23 L98.43 402.73 L99.03 402.23 L99.62 401.74 L100.22 401.24 L100.82 400.73 L101.41 400.21 L102.01 399.7 L102.61 399.18 L103.2 398.66 L103.8 398.14 L104.39 397.63 L104.99 397.13 L105.59 396.63 L106.18 396.14 L106.78 395.66 L107.38 395.19 L107.97 394.74 L108.57 394.31 L109.17 393.89 L109.76 393.49 L110.36 393.11 L110.96 392.75 L111.55 392.39 L112.15 392.05 L112.75 391.72 L113.34 391.39 L113.94 391.07 L114.54 390.76 L115.13 390.45 L115.73 390.14 L116.33 389.84 L116.92 389.53 L117.52 389.23 L118.11 388.93 L118.71 388.64 L119.31 388.35 L119.9 388.06 L120.5 387.79 L121.1 387.52 L121.69 387.27 L122.29 387.03 L122.89 386.8 L123.48 386.59 L124.08 386.4 L124.68 386.22 L125.27 386.05 L125.87 385.88 L126.47 385.71 L127.06 385.53 L127.66 385.35 L128.25 385.15 L128.85 384.94 L129.45 384.7 L130.04 384.44 L130.64 384.15 L131.24 383.82 L131.83 383.46 L132.43 383.07 L133.03 382.64 L133.62 382.19 L134.22 381.71 L134.82 381.21 L135.41 380.67 L136.01 379.95 L136.61 379.08 L137.2 378.11 L137.8 377.11 L138.4 376.14 L138.99 375.26 L139.59 374.54 L140.19 374.03 L140.78 373.8 L141.38 373.82 L141.97 373.89 L142.57 374.01 L143.17 374.17 L143.76 374.37 L144.36 374.6 L144.96 374.85 L145.55 375.13 L146.15 375.76 L146.75 376.49 L147.34 376.84 L147.94 376.84 L148.54 376.84 L149.13 376.84 L149.73 376.84 L150.33 376.84 L150.92 376.84 L151.52 376.84 L152.12 376.84 L152.71 376.84 L153.31 376.84 L153.9 376.84 L154.5 376.84 L155.1 376.84 L155.69 376.84 L156.29 376.84 L156.89 376.84 L157.48 376.84 L158.08 376.84 L158.68 376.84 L159.27 376.84 L159.87 376.84 L160.47 376.84 L161.06 376.84 L161.66 376.84 L162.26 376.84 L162.85 376.84 L163.45 376.84 L164.05 376.84 L164.64 376.84 L165.24 376.84 L165.83 376.84 L166.43 376.84 L167.03 376.84 L167.62 376.84 L168.22 376.84 L168.82 376.84 L169.41 376.84 L170.01 376.84 L170.61 376.84 L171.2 376.84 L171.8 376.84 L172.4 376.84 L172.99 376.84 L173.59 376.84 L174.19 376.84 L174.78 376.84 L175.38 376.84 L175.98 376.84 L176.57 376.84 L177.17 376.84 L177.76 376.84 L178.36 376.84 L178.96 376.84 L179.55 376.84 L180.15 376.84 L180.75 376.84 L181.34 376.84 L181.94 376.84 L182.54 376.84 L183.13 376.84 L183.73 376.84 L184.33 376.84 L184.92 376.84 L185.52 376.84 L186.12 376.84 L186.71 376.84 L187.31 376.84 L187.91 376.84 L188.5 376.84 L189.1 376.84 L189.69 376.84 L190.29 376.84 L190.89 376.84 L191.48 376.84 L192.08 376.84 L192.68 376.84 L193.27 376.84 L193.87 376.84 L194.47 376.84 L195.06 376.84 L195.66 376.84 L196.26 376.84 L196.85 376.84 L197.45 376.84 L198.05 376.84 L198.64 376.84 L199.24 376.84 L199.84 376.84 L200.43 376.84 L201.03 376.84 L201.62 376.84 L202.22 376.84 L202.82 376.84 L203.41 376.84 L204.01 376.84 L204.61 376.84 L205.2 376.84 L205.8 376.84" fill="none" stroke="#0000ff" stroke-width="2.6" stroke-dasharray="10 4.5" stroke-dashoffset="2.65" stroke-linejoin="round"/>
<path clip-path="url(#c3)" d="M86.5 412.84 L87.1 412.31 L87.69 411.78 L88.29 411.25 L88.89 410.73 L89.48 410.21 L90.08 409.69 L90.68 409.18 L91.27 408.67 L91.87 408.16 L92.47 407.65 L93.06 407.14 L93.66 406.64 L94.25 406.14 L94.85 405.64 L95.45 405.15 L96.04 404.65 L96.64 404.16 L97.24 403.68 L97.83 403.19 L98.43 402.71 L99.03 402.22 L99.62 401.74 L100.22 401.26 L100.82 400.77 L101.41 400.28 L102.01 399.78 L102.61 399.29 L103.2 398.79 L103.8 398.3 L104.39 397.82 L104.99 397.34 L105.59 396.87 L106.18 396.42 L106.78 395.97 L107.38 395.54 L107.97 395.13 L108.57 394.74 L109.17 394.36 L109.76 394.01 L110.36 393.67 L110.96 393.33 L111.55 393.01 L112.15 392.7 L112.75 392.4 L113.34 392.11 L113.94 391.84 L114.54 391.58 L115.13 391.34 L115.73 391.12 L116.33 390.92 L116.92 390.73 L117.52 390.54 L118.11 390.37 L118.71 390.21 L119.31 390.05 L119.9 389.89 L120.5 389.75 L121.1 389.61 L121.69 389.47 L122.29 389.33 L122.89 389.2 L123.48 389.07 L124.08 388.94 L124.68 388.81 L125.27 388.68 L125.87 388.55 L126.47 388.44 L127.06 388.32 L127.66 388.22 L128.25 388.11 L128.85 388 L129.45 387.88 L130.04 387.77 L130.64 387.64 L131.24 387.51 L131.83 387.38 L132.43 387.25 L133.03 387.13 L133.62 387 L134.22 386.87 L134.82 386.73 L135.41 386.57 L136.01 386.4 L136.61 386.2 L137.2 385.97 L137.8 385.71 L138.4 385.31 L138.99 384.69 L139.59 383.9 L140.19 383.02 L140.78 382.09 L141.38 381.18 L141.97 380.33 L142.57 379.61 L143.17 379.03 L143.76 378.42 L144.36 377.83 L144.96 377.32 L145.55 376.97 L146.15 376.84 L146.75 376.84 L147.34 376.84 L147.94 376.84 L148.54 376.84 L149.13 376.84 L149.73 376.84 L150.33 376.84 L150.92 376.84 L151.52 376.84 L152.12 376.84 L152.71 376.84 L153.31 376.84 L153.9 376.84 L154.5 376.84 L155.1 376.84 L155.69 376.84 L156.29 376.84 L156.89 376.84 L157.48 376.84 L158.08 376.84 L158.68 376.84 L159.27 376.84 L159.87 376.84 L160.47 376.84 L161.06 376.84 L161.66 376.84 L162.26 376.84 L162.85 376.84 L163.45 376.84 L164.05 376.84 L164.64 376.84 L165.24 376.84 L165.83 376.84 L166.43 376.84 L167.03 376.84 L167.62 376.84 L168.22 376.84 L168.82 376.84 L169.41 376.84 L170.01 376.84 L170.61 376.84 L171.2 376.84 L171.8 376.84 L172.4 376.84 L172.99 376.84 L173.59 376.84 L174.19 376.84 L174.78 376.84 L175.38 376.84 L175.98 376.84 L176.57 376.84 L177.17 376.84 L177.76 376.84 L178.36 376.84 L178.96 376.84 L179.55 376.84 L180.15 376.84 L180.75 376.84 L181.34 376.84 L181.94 376.84 L182.54 376.84 L183.13 376.84 L183.73 376.84 L184.33 376.84 L184.92 376.84 L185.52 376.84 L186.12 376.84 L186.71 376.84 L187.31 376.84 L187.91 376.84 L188.5 376.84 L189.1 376.84 L189.69 376.84 L190.29 376.84 L190.89 376.84 L191.48 376.84 L192.08 376.84 L192.68 376.84 L193.27 376.84 L193.87 376.84 L194.47 376.84 L195.06 376.84 L195.66 376.84 L196.26 376.84 L196.85 376.84 L197.45 376.84 L198.05 376.84 L198.64 376.84 L199.24 376.84 L199.84 376.84 L200.43 376.84 L201.03 376.84 L201.62 376.84 L202.22 376.84 L202.82 376.84 L203.41 376.84 L204.01 376.84 L204.61 376.84 L205.2 376.84 L205.8 376.84" fill="none" stroke="#ff0000" stroke-width="2.6" stroke-dasharray="16.8 4.6 2 4.8" stroke-dashoffset="26.39" stroke-linejoin="round"/>
<rect x="86.5" y="366.7" width="119.3" height="50.7" fill="none" stroke="#222" stroke-width="1.25"/>
<line x1="86.5" y1="417.4" x2="86.5" y2="414.4" stroke="#222" stroke-width="1"/>
<text x="86.5" y="427.8" text-anchor="middle" class="tk">0.0</text>
<line x1="110.36" y1="417.4" x2="110.36" y2="414.4" stroke="#222" stroke-width="1"/>
<text x="110.36" y="427.8" text-anchor="middle" class="tk">0.2</text>
<line x1="134.22" y1="417.4" x2="134.22" y2="414.4" stroke="#222" stroke-width="1"/>
<text x="134.22" y="427.8" text-anchor="middle" class="tk">0.4</text>
<line x1="158.08" y1="417.4" x2="158.08" y2="414.4" stroke="#222" stroke-width="1"/>
<text x="158.08" y="427.8" text-anchor="middle" class="tk">0.6</text>
<line x1="181.94" y1="417.4" x2="181.94" y2="414.4" stroke="#222" stroke-width="1"/>
<text x="181.94" y="427.8" text-anchor="middle" class="tk">0.8</text>
<line x1="205.8" y1="417.4" x2="205.8" y2="414.4" stroke="#222" stroke-width="1"/>
<text x="205.8" y="427.8" text-anchor="middle" class="tk">1.0</text>
<line x1="86.5" y1="402.19" x2="89.7" y2="402.19" stroke="#222" stroke-width="1"/>
<text x="82.5" y="406.19" text-anchor="end" class="tk">−5</text>
<line x1="86.5" y1="376.84" x2="89.7" y2="376.84" stroke="#222" stroke-width="1"/>
<text x="82.5" y="380.84" text-anchor="end" class="tk">0</text>
</g>
<g>
<line x1="378.05" y1="288.8" x2="378.05" y2="164" stroke="#5c5c5c" stroke-width="1" stroke-dasharray="5.4 2.3"/>
<line x1="431.7" y1="288.8" x2="431.7" y2="164" stroke="#5c5c5c" stroke-width="1" stroke-dasharray="5.4 2.3"/>
<line x1="485.35" y1="288.8" x2="485.35" y2="164" stroke="#5c5c5c" stroke-width="1" stroke-dasharray="5.4 2.3"/>
<line x1="324.4" y1="257.6" x2="539" y2="257.6" stroke="#5c5c5c" stroke-width="1" stroke-dasharray="5.4 2.3"/>
<line x1="324.4" y1="226.4" x2="539" y2="226.4" stroke="#5c5c5c" stroke-width="1" stroke-dasharray="5.4 2.3"/>
<line x1="324.4" y1="195.2" x2="539" y2="195.2" stroke="#5c5c5c" stroke-width="1" stroke-dasharray="5.4 2.3"/>
<clipPath id="m4"><rect x="324.4" y="164" width="214.6" height="124.8"/></clipPath>
<g clip-path="url(#m4)">
<path d="M324.4 232.02 L324.45 231.35 L324.51 230.67 L324.56 229.98 L324.61 229.27 L324.67 228.56 L324.72 227.83 L324.78 227.1 L324.83 226.35 L324.88 225.59 L324.94 224.82 L324.99 224.04 L325.04 223.25 L325.1 222.45 L325.15 221.65 L325.2 220.83 L325.26 220 L325.31 219.17 L325.37 218.33 L325.42 217.48 L325.47 216.62 L325.53 215.76 L325.58 214.88 L325.63 214 L325.69 213.12 L325.74 212.18 L325.79 211.18 L325.85 210.12 L325.9 209.03 L325.96 207.9 L326.01 206.76 L326.06 205.6 L326.12 204.45 L326.17 203.31 L326.22 202.2 L326.28 201.11 L326.33 200.08 L326.39 199.09 L326.44 198.18 L326.49 197.34 L326.55 196.59 L326.6 195.94 L326.65 195.36 L326.71 194.79 L326.76 194.21 L326.81 193.64 L326.87 193.08 L326.92 192.53 L326.98 191.99 L327.03 191.48 L327.08 190.98 L327.14 190.52 L327.19 190.08 L327.24 189.67 L327.3 189.3 L327.35 188.97 L327.4 188.69 L327.46 188.45 L327.51 188.26 L327.57 188.12 L327.62 188.04 L327.67 188.03 L327.73 188.13 L327.78 188.35 L327.83 188.7 L327.89 189.15 L327.94 189.7 L327.99 190.32 L328.05 191.02 L328.1 191.77 L328.16 192.68 L328.21 194.19 L328.26 196.25 L328.32 198.76 L328.37 201.62 L328.42 204.73 L328.48 208 L328.53 211.31 L328.58 214.58 L328.64 217.69 L328.69 220.65 L328.75 223.62 L328.8 226.7 L328.85 229.96 L328.91 233.49 L328.96 237.47 L329.01 242.86 L329.07 249.3 L329.12 256.08 L329.17 262.55 L329.23 268.01 L329.28 271.79 L329.34 273.2 L329.39 271.89 L329.44 268.65 L329.5 264.57 L329.55 260.69 L329.6 258.1 L329.66 257.6 L329.71 257.6 L329.76 257.6 L329.82 257.6 L329.87 257.6 L329.93 257.6 L329.98 257.6 L330.03 257.6 L330.09 257.6 L330.14 257.6 L330.19 257.6 L330.25 257.6 L330.3 257.6 L330.36 257.6 L330.41 257.6 L330.46 257.6 L330.52 257.6 L330.57 257.6 L330.62 257.6 L330.68 257.6 L330.73 257.6 L330.78 257.6 L330.84 257.6" fill="none" stroke="#0000ff" stroke-width="3.0" stroke-dasharray="10 4.5" stroke-linejoin="round"/>
<path d="M324.4 232.02 L324.45 231.35 L324.51 230.67 L324.56 229.98 L324.61 229.27 L324.67 228.56 L324.72 227.83 L324.78 227.1 L324.83 226.35 L324.88 225.59 L324.94 224.82 L324.99 224.04 L325.04 223.25 L325.1 222.45 L325.15 221.65 L325.2 220.83 L325.26 220 L325.31 219.17 L325.37 218.33 L325.42 217.48 L325.47 216.62 L325.53 215.76 L325.58 214.88 L325.63 214 L325.69 213.12 L325.74 212.18 L325.79 211.18 L325.85 210.12 L325.9 209.03 L325.96 207.9 L326.01 206.76 L326.06 205.6 L326.12 204.45 L326.17 203.31 L326.22 202.2 L326.28 201.11 L326.33 200.08 L326.39 199.09 L326.44 198.18 L326.49 197.34 L326.55 196.59 L326.6 195.94 L326.65 195.36 L326.71 194.79 L326.76 194.21 L326.81 193.64 L326.87 193.08 L326.92 192.53 L326.98 191.99 L327.03 191.48 L327.08 190.98 L327.14 190.52 L327.19 190.08 L327.24 189.67 L327.3 189.3 L327.35 188.97 L327.4 188.69 L327.46 188.45 L327.51 188.26 L327.57 188.12 L327.62 188.04 L327.67 188.03 L327.73 188.1 L327.78 188.26 L327.83 188.51 L327.89 188.82 L327.94 189.2 L327.99 189.64 L328.05 190.11 L328.1 190.62 L328.16 191.21 L328.21 192.06 L328.26 193.16 L328.32 194.46 L328.37 195.92 L328.42 197.5 L328.48 199.14 L328.53 200.82 L328.58 202.61 L328.64 204.62 L328.69 206.81 L328.75 209.15 L328.8 211.61 L328.85 214.15 L328.91 216.73 L328.96 219.34 L329.01 222.08 L329.07 224.96 L329.12 227.95 L329.17 231.03 L329.23 234.16 L329.28 237.32 L329.34 240.48 L329.39 243.62 L329.44 246.71 L329.5 250.02 L329.55 253.97 L329.6 256.98 L329.66 257.6 L329.71 257.6 L329.76 257.6 L329.82 257.6 L329.87 257.6 L329.93 257.6 L329.98 257.6 L330.03 257.6 L330.09 257.6 L330.14 257.6 L330.19 257.6 L330.25 257.6 L330.3 257.6 L330.36 257.6 L330.41 257.6 L330.46 257.6 L330.52 257.6 L330.57 257.6 L330.62 257.6 L330.68 257.6 L330.73 257.6 L330.78 257.6 L330.84 257.6" fill="none" stroke="#ff0000" stroke-width="3.0" stroke-dasharray="16.8 4.6 2 4.8" stroke-linejoin="round"/>
<path d="M329.12 256.08 L329.14 258.09 L329.15 260.05 L329.17 261.94 L329.19 263.75 L329.2 265.45 L329.22 267.03 L329.23 268.48 L329.25 269.76 L329.27 270.87 L329.28 271.79 L329.3 272.49 L329.31 272.96 L329.33 273.18 L329.35 273.14 L329.36 272.85 L329.38 272.34 L329.39 271.63 L329.41 270.76 L329.43 269.76 L329.44 268.65 L329.46 267.47 L329.48 266.23 L329.49 264.98 L329.51 263.74 L329.52 262.54 L329.54 261.4 L329.56 260.36 L329.57 259.44 L329.59 258.68 L329.6 258.1 L329.62 257.73 L329.64 257.6 L329.65 257.6 L329.67 257.6 L329.68 257.6 L329.7 257.6 L329.72 257.6 L329.73 257.6 L329.75 257.6 L329.76 257.6" fill="none" stroke="#0000ff" stroke-width="3.0" stroke-linejoin="round"/>
<line x1="330.3" y1="257.6" x2="539" y2="257.6" stroke="#ff0000" stroke-width="3.0"/>
</g>
<line x1="336.6" y1="164" x2="336.6" y2="288.8" stroke="#222" stroke-width="1"/>
<line x1="336.6" y1="226.3" x2="372.4" y2="205.4" stroke="#222" stroke-width="0.9"/>
<rect x="324.4" y="164" width="214.6" height="124.8" fill="none" stroke="#222" stroke-width="1.1"/>
<line x1="324.4" y1="288.8" x2="324.4" y2="286.3" stroke="#222" stroke-width="1"/>
<text x="324.4" y="299.6" text-anchor="middle" class="tk">0</text>
<line x1="378.05" y1="288.8" x2="378.05" y2="286.3" stroke="#222" stroke-width="1"/>
<text x="378.05" y="299.6" text-anchor="middle" class="tk">5</text>
<line x1="431.7" y1="288.8" x2="431.7" y2="286.3" stroke="#222" stroke-width="1"/>
<text x="431.7" y="299.6" text-anchor="middle" class="tk">10</text>
<line x1="485.35" y1="288.8" x2="485.35" y2="286.3" stroke="#222" stroke-width="1"/>
<text x="485.35" y="299.6" text-anchor="middle" class="tk">15</text>
<line x1="539" y1="288.8" x2="539" y2="286.3" stroke="#222" stroke-width="1"/>
<text x="539" y="299.6" text-anchor="middle" class="tk">20</text>
<line x1="324.4" y1="288.8" x2="326.9" y2="288.8" stroke="#222" stroke-width="1"/>
<text x="320.8" y="292.9" text-anchor="end" class="tk">−5</text>
<line x1="324.4" y1="257.6" x2="326.9" y2="257.6" stroke="#222" stroke-width="1"/>
<text x="320.8" y="261.7" text-anchor="end" class="tk">0</text>
<line x1="324.4" y1="226.4" x2="326.9" y2="226.4" stroke="#222" stroke-width="1"/>
<text x="320.8" y="230.5" text-anchor="end" class="tk">5</text>
<line x1="324.4" y1="195.2" x2="326.9" y2="195.2" stroke="#222" stroke-width="1"/>
<text x="320.8" y="199.3" text-anchor="end" class="tk">10</text>
<line x1="324.4" y1="164" x2="326.9" y2="164" stroke="#222" stroke-width="1"/>
<text x="320.8" y="168.1" text-anchor="end" class="tk">15</text>
<text transform="translate(304.5 227.7) rotate(-90)" text-anchor="middle" class="yl">e<tspan class="sub" dy="1.2">34</tspan><tspan dy="-1.2">(N·m)</tspan></text>
<rect x="372.4" y="178.1" width="117.6" height="49.4" fill="#fff"/>
<clipPath id="c4"><rect x="372.4" y="178.1" width="117.6" height="49.4"/></clipPath>
<path clip-path="url(#c4)" d="M372.4 205.02 L372.99 204.76 L373.58 204.49 L374.16 204.22 L374.75 203.94 L375.34 203.65 L375.93 203.37 L376.52 203.08 L377.1 202.78 L377.69 202.48 L378.28 202.17 L378.87 201.87 L379.46 201.55 L380.04 201.24 L380.63 200.92 L381.22 200.59 L381.81 200.27 L382.4 199.94 L382.98 199.6 L383.57 199.27 L384.16 198.93 L384.75 198.59 L385.34 198.24 L385.92 197.89 L386.51 197.54 L387.1 197.17 L387.69 196.77 L388.28 196.36 L388.86 195.92 L389.45 195.48 L390.04 195.03 L390.63 194.57 L391.22 194.11 L391.8 193.66 L392.39 193.22 L392.98 192.79 L393.57 192.38 L394.16 191.99 L394.74 191.63 L395.33 191.3 L395.92 191 L396.51 190.74 L397.1 190.51 L397.68 190.29 L398.27 190.06 L398.86 189.83 L399.45 189.61 L400.04 189.39 L400.62 189.18 L401.21 188.98 L401.8 188.78 L402.39 188.6 L402.98 188.42 L403.56 188.26 L404.15 188.12 L404.74 187.99 L405.33 187.87 L405.92 187.78 L406.5 187.7 L407.09 187.65 L407.68 187.62 L408.27 187.61 L408.86 187.65 L409.44 187.74 L410.03 187.88 L410.62 188.06 L411.21 188.27 L411.8 188.52 L412.38 188.79 L412.97 189.09 L413.56 189.45 L414.15 190.05 L414.74 190.86 L415.32 191.86 L415.91 192.99 L416.5 194.22 L417.09 195.52 L417.68 196.83 L418.26 198.12 L418.85 199.35 L419.44 200.52 L420.03 201.7 L420.62 202.92 L421.2 204.21 L421.79 205.6 L422.38 207.18 L422.97 209.32 L423.56 211.86 L424.14 214.55 L424.73 217.11 L425.32 219.27 L425.91 220.77 L426.5 221.32 L427.08 220.8 L427.67 219.52 L428.26 217.91 L428.85 216.37 L429.44 215.35 L430.02 215.15 L430.61 215.15 L431.2 215.15 L431.79 215.15 L432.38 215.15 L432.96 215.15 L433.55 215.15 L434.14 215.15 L434.73 215.15 L435.32 215.15 L435.9 215.15 L436.49 215.15 L437.08 215.15 L437.67 215.15 L438.26 215.15 L438.84 215.15 L439.43 215.15 L440.02 215.15 L440.61 215.15 L441.2 215.15 L441.78 215.15 L442.37 215.15 L442.96 215.15 L443.55 215.15 L444.14 215.15 L444.72 215.15 L445.31 215.15 L445.9 215.15 L446.49 215.15 L447.08 215.15 L447.66 215.15 L448.25 215.15 L448.84 215.15 L449.43 215.15 L450.02 215.15 L450.6 215.15 L451.19 215.15 L451.78 215.15 L452.37 215.15 L452.96 215.15 L453.54 215.15 L454.13 215.15 L454.72 215.15 L455.31 215.15 L455.9 215.15 L456.48 215.15 L457.07 215.15 L457.66 215.15 L458.25 215.15 L458.84 215.15 L459.42 215.15 L460.01 215.15 L460.6 215.15 L461.19 215.15 L461.78 215.15 L462.36 215.15 L462.95 215.15 L463.54 215.15 L464.13 215.15 L464.72 215.15 L465.3 215.15 L465.89 215.15 L466.48 215.15 L467.07 215.15 L467.66 215.15 L468.24 215.15 L468.83 215.15 L469.42 215.15 L470.01 215.15 L470.6 215.15 L471.18 215.15 L471.77 215.15 L472.36 215.15 L472.95 215.15 L473.54 215.15 L474.12 215.15 L474.71 215.15 L475.3 215.15 L475.89 215.15 L476.48 215.15 L477.06 215.15 L477.65 215.15 L478.24 215.15 L478.83 215.15 L479.42 215.15 L480 215.15 L480.59 215.15 L481.18 215.15 L481.77 215.15 L482.36 215.15 L482.94 215.15 L483.53 215.15 L484.12 215.15 L484.71 215.15 L485.3 215.15 L485.88 215.15 L486.47 215.15 L487.06 215.15 L487.65 215.15 L488.24 215.15 L488.82 215.15 L489.41 215.15 L490 215.15" fill="none" stroke="#0000ff" stroke-width="2.6" stroke-dasharray="10 4.5" stroke-dashoffset="10.01" stroke-linejoin="round"/>
<path clip-path="url(#c4)" d="M372.4 205.02 L372.99 204.76 L373.58 204.49 L374.16 204.22 L374.75 203.94 L375.34 203.65 L375.93 203.37 L376.52 203.08 L377.1 202.78 L377.69 202.48 L378.28 202.17 L378.87 201.87 L379.46 201.55 L380.04 201.24 L380.63 200.92 L381.22 200.59 L381.81 200.27 L382.4 199.94 L382.98 199.6 L383.57 199.27 L384.16 198.93 L384.75 198.59 L385.34 198.24 L385.92 197.89 L386.51 197.54 L387.1 197.17 L387.69 196.77 L388.28 196.36 L388.86 195.92 L389.45 195.48 L390.04 195.03 L390.63 194.57 L391.22 194.11 L391.8 193.66 L392.39 193.22 L392.98 192.79 L393.57 192.38 L394.16 191.99 L394.74 191.63 L395.33 191.3 L395.92 191 L396.51 190.74 L397.1 190.51 L397.68 190.29 L398.27 190.06 L398.86 189.83 L399.45 189.61 L400.04 189.39 L400.62 189.18 L401.21 188.98 L401.8 188.78 L402.39 188.6 L402.98 188.42 L403.56 188.26 L404.15 188.12 L404.74 187.99 L405.33 187.87 L405.92 187.78 L406.5 187.7 L407.09 187.65 L407.68 187.62 L408.27 187.61 L408.86 187.64 L409.44 187.7 L410.03 187.8 L410.62 187.93 L411.21 188.08 L411.8 188.25 L412.38 188.44 L412.97 188.64 L413.56 188.87 L414.15 189.21 L414.74 189.64 L415.32 190.16 L415.91 190.73 L416.5 191.36 L417.09 192.01 L417.68 192.67 L418.26 193.38 L418.85 194.18 L419.44 195.05 L420.03 195.97 L420.62 196.94 L421.2 197.95 L421.79 198.97 L422.38 200.01 L422.97 201.09 L423.56 202.23 L424.14 203.41 L424.73 204.63 L425.32 205.87 L425.91 207.12 L426.5 208.37 L427.08 209.62 L427.67 210.84 L428.26 212.15 L428.85 213.71 L429.44 214.91 L430.02 215.15 L430.61 215.15 L431.2 215.15 L431.79 215.15 L432.38 215.15 L432.96 215.15 L433.55 215.15 L434.14 215.15 L434.73 215.15 L435.32 215.15 L435.9 215.15 L436.49 215.15 L437.08 215.15 L437.67 215.15 L438.26 215.15 L438.84 215.15 L439.43 215.15 L440.02 215.15 L440.61 215.15 L441.2 215.15 L441.78 215.15 L442.37 215.15 L442.96 215.15 L443.55 215.15 L444.14 215.15 L444.72 215.15 L445.31 215.15 L445.9 215.15 L446.49 215.15 L447.08 215.15 L447.66 215.15 L448.25 215.15 L448.84 215.15 L449.43 215.15 L450.02 215.15 L450.6 215.15 L451.19 215.15 L451.78 215.15 L452.37 215.15 L452.96 215.15 L453.54 215.15 L454.13 215.15 L454.72 215.15 L455.31 215.15 L455.9 215.15 L456.48 215.15 L457.07 215.15 L457.66 215.15 L458.25 215.15 L458.84 215.15 L459.42 215.15 L460.01 215.15 L460.6 215.15 L461.19 215.15 L461.78 215.15 L462.36 215.15 L462.95 215.15 L463.54 215.15 L464.13 215.15 L464.72 215.15 L465.3 215.15 L465.89 215.15 L466.48 215.15 L467.07 215.15 L467.66 215.15 L468.24 215.15 L468.83 215.15 L469.42 215.15 L470.01 215.15 L470.6 215.15 L471.18 215.15 L471.77 215.15 L472.36 215.15 L472.95 215.15 L473.54 215.15 L474.12 215.15 L474.71 215.15 L475.3 215.15 L475.89 215.15 L476.48 215.15 L477.06 215.15 L477.65 215.15 L478.24 215.15 L478.83 215.15 L479.42 215.15 L480 215.15 L480.59 215.15 L481.18 215.15 L481.77 215.15 L482.36 215.15 L482.94 215.15 L483.53 215.15 L484.12 215.15 L484.71 215.15 L485.3 215.15 L485.88 215.15 L486.47 215.15 L487.06 215.15 L487.65 215.15 L488.24 215.15 L488.82 215.15 L489.41 215.15 L490 215.15" fill="none" stroke="#ff0000" stroke-width="2.6" stroke-dasharray="16.8 4.6 2 4.8" stroke-dashoffset="28.02" stroke-linejoin="round"/>
<rect x="372.4" y="178.1" width="117.6" height="49.4" fill="none" stroke="#222" stroke-width="1.25"/>
<line x1="372.4" y1="227.5" x2="372.4" y2="224.5" stroke="#222" stroke-width="1"/>
<text x="372.4" y="237.9" text-anchor="middle" class="tk">0.0</text>
<line x1="395.92" y1="227.5" x2="395.92" y2="224.5" stroke="#222" stroke-width="1"/>
<text x="395.92" y="237.9" text-anchor="middle" class="tk">0.2</text>
<line x1="419.44" y1="227.5" x2="419.44" y2="224.5" stroke="#222" stroke-width="1"/>
<text x="419.44" y="237.9" text-anchor="middle" class="tk">0.4</text>
<line x1="442.96" y1="227.5" x2="442.96" y2="224.5" stroke="#222" stroke-width="1"/>
<text x="442.96" y="237.9" text-anchor="middle" class="tk">0.6</text>
<line x1="466.48" y1="227.5" x2="466.48" y2="224.5" stroke="#222" stroke-width="1"/>
<text x="466.48" y="237.9" text-anchor="middle" class="tk">0.8</text>
<line x1="490" y1="227.5" x2="490" y2="224.5" stroke="#222" stroke-width="1"/>
<text x="490" y="237.9" text-anchor="middle" class="tk">1.0</text>
<line x1="372.4" y1="215.15" x2="375.6" y2="215.15" stroke="#222" stroke-width="1"/>
<text x="368.4" y="219.15" text-anchor="end" class="tk">0</text>
<line x1="372.4" y1="190.45" x2="375.6" y2="190.45" stroke="#222" stroke-width="1"/>
<text x="368.4" y="194.45" text-anchor="end" class="tk">10</text>
</g>
<g>
<line x1="378.05" y1="439" x2="378.05" y2="314.5" stroke="#5c5c5c" stroke-width="1" stroke-dasharray="5.4 2.3"/>
<line x1="431.7" y1="439" x2="431.7" y2="314.5" stroke="#5c5c5c" stroke-width="1" stroke-dasharray="5.4 2.3"/>
<line x1="485.35" y1="439" x2="485.35" y2="314.5" stroke="#5c5c5c" stroke-width="1" stroke-dasharray="5.4 2.3"/>
<line x1="324.4" y1="414.1" x2="539" y2="414.1" stroke="#5c5c5c" stroke-width="1" stroke-dasharray="5.4 2.3"/>
<line x1="324.4" y1="389.2" x2="539" y2="389.2" stroke="#5c5c5c" stroke-width="1" stroke-dasharray="5.4 2.3"/>
<line x1="324.4" y1="364.3" x2="539" y2="364.3" stroke="#5c5c5c" stroke-width="1" stroke-dasharray="5.4 2.3"/>
<line x1="324.4" y1="339.4" x2="539" y2="339.4" stroke="#5c5c5c" stroke-width="1" stroke-dasharray="5.4 2.3"/>
<clipPath id="m5"><rect x="324.4" y="314.5" width="214.6" height="124.5"/></clipPath>
<g clip-path="url(#m5)">
<path d="M324.4 359.07 L324.45 359.92 L324.51 360.77 L324.56 361.63 L324.61 362.5 L324.67 363.38 L324.72 364.27 L324.78 365.16 L324.83 366.07 L324.88 366.98 L324.94 367.89 L324.99 368.82 L325.04 369.75 L325.1 370.69 L325.15 371.63 L325.2 372.59 L325.26 373.55 L325.31 374.51 L325.37 375.48 L325.42 376.46 L325.47 377.44 L325.53 378.43 L325.58 379.43 L325.63 380.43 L325.69 381.43 L325.74 382.46 L325.79 383.52 L325.85 384.6 L325.9 385.7 L325.96 386.82 L326.01 387.94 L326.06 389.08 L326.12 390.22 L326.17 391.35 L326.22 392.49 L326.28 393.61 L326.33 394.73 L326.39 395.82 L326.44 396.9 L326.49 397.95 L326.55 398.97 L326.6 399.96 L326.65 400.94 L326.71 401.94 L326.76 402.96 L326.81 404 L326.87 405.05 L326.92 406.1 L326.98 407.14 L327.03 408.17 L327.08 409.18 L327.14 410.17 L327.19 411.12 L327.24 412.03 L327.3 412.9 L327.35 413.72 L327.4 414.48 L327.46 415.17 L327.51 415.79 L327.57 416.33 L327.62 416.79 L327.67 417.16 L327.73 417.49 L327.78 417.81 L327.83 418.1 L327.89 418.34 L327.94 418.51 L327.99 418.58 L328.05 418.5 L328.1 418.19 L328.16 417.67 L328.21 416.97 L328.26 416.12 L328.32 415.15 L328.37 414.1 L328.42 412.57 L328.48 410.29 L328.53 407.45 L328.58 404.24 L328.64 400.84 L328.69 397.13 L328.75 392.66 L328.8 387.63 L328.85 382.24 L328.91 376.71 L328.96 371.25 L329.01 366.09 L329.07 361.4 L329.12 356.48 L329.17 351.17 L329.23 345.77 L329.28 340.56 L329.34 335.85 L329.39 331.91 L329.44 329.06 L329.5 327.59 L329.55 328 L329.6 330.78 L329.66 334.59 L329.71 337.95 L329.76 339.4 L329.82 339.4 L329.87 339.4 L329.93 339.4 L329.98 339.4 L330.03 339.4 L330.09 339.4 L330.14 339.4 L330.19 339.4 L330.25 339.4 L330.3 339.4 L330.36 339.4 L330.41 339.4 L330.46 339.4 L330.52 339.4 L330.57 339.4 L330.62 339.4 L330.68 339.4 L330.73 339.4 L330.78 339.4 L330.84 339.4" fill="none" stroke="#0000ff" stroke-width="3.0" stroke-dasharray="10 4.5" stroke-linejoin="round"/>
<path d="M324.4 359.07 L324.45 359.92 L324.51 360.77 L324.56 361.63 L324.61 362.5 L324.67 363.38 L324.72 364.27 L324.78 365.16 L324.83 366.07 L324.88 366.98 L324.94 367.89 L324.99 368.82 L325.04 369.75 L325.1 370.69 L325.15 371.63 L325.2 372.59 L325.26 373.55 L325.31 374.51 L325.37 375.48 L325.42 376.46 L325.47 377.44 L325.53 378.43 L325.58 379.43 L325.63 380.43 L325.69 381.43 L325.74 382.45 L325.79 383.48 L325.85 384.52 L325.9 385.58 L325.96 386.64 L326.01 387.71 L326.06 388.8 L326.12 389.89 L326.17 390.99 L326.22 392.09 L326.28 393.2 L326.33 394.32 L326.39 395.43 L326.44 396.56 L326.49 397.68 L326.55 398.8 L326.6 399.93 L326.65 401.07 L326.71 402.26 L326.76 403.49 L326.81 404.75 L326.87 406.03 L326.92 407.34 L326.98 408.65 L327.03 409.96 L327.08 411.27 L327.14 412.57 L327.19 413.84 L327.24 415.09 L327.3 416.31 L327.35 417.48 L327.4 418.6 L327.46 419.67 L327.51 420.67 L327.57 421.6 L327.62 422.45 L327.67 423.21 L327.73 423.97 L327.78 424.75 L327.83 425.52 L327.89 426.26 L327.94 426.96 L327.99 427.59 L328.05 428.13 L328.1 428.57 L328.16 428.87 L328.21 429.03 L328.26 428.95 L328.32 428.45 L328.37 427.54 L328.42 426.28 L328.48 424.71 L328.53 422.91 L328.58 420.91 L328.64 418.77 L328.69 416.54 L328.75 413.92 L328.8 410.31 L328.85 405.95 L328.91 401.1 L328.96 396.04 L329.01 391.02 L329.07 386.29 L329.12 381.53 L329.17 376.63 L329.23 371.7 L329.28 366.89 L329.34 362.31 L329.39 357.4 L329.44 351.98 L329.5 346.77 L329.55 342.5 L329.6 339.88 L329.66 339.4 L329.71 339.4 L329.76 339.4 L329.82 339.4 L329.87 339.4 L329.93 339.4 L329.98 339.4 L330.03 339.4 L330.09 339.4 L330.14 339.4 L330.19 339.4 L330.25 339.4 L330.3 339.4 L330.36 339.4 L330.41 339.4 L330.46 339.4 L330.52 339.4 L330.57 339.4 L330.62 339.4 L330.68 339.4 L330.73 339.4 L330.78 339.4 L330.84 339.4" fill="none" stroke="#ff0000" stroke-width="3.0" stroke-dasharray="16.8 4.6 2 4.8" stroke-linejoin="round"/>
<path d="M329.23 345.77 L329.24 344.17 L329.26 342.6 L329.28 341.07 L329.29 339.57 L329.31 338.12 L329.33 336.74 L329.34 335.41 L329.36 334.16 L329.37 332.99 L329.39 331.91 L329.41 330.93 L329.42 330.06 L329.44 329.29 L329.45 328.65 L329.47 328.14 L329.49 327.76 L329.5 327.53 L329.52 327.45 L329.53 327.59 L329.55 328 L329.57 328.64 L329.58 329.46 L329.6 330.43 L329.61 331.51 L329.63 332.65 L329.65 333.81 L329.66 334.97 L329.68 336.07 L329.7 337.08 L329.71 337.95 L329.73 338.65 L329.74 339.14 L329.76 339.38 L329.78 339.4 L329.79 339.4 L329.81 339.4 L329.82 339.4 L329.84 339.4 L329.86 339.4 L329.87 339.4" fill="none" stroke="#0000ff" stroke-width="3.0" stroke-linejoin="round"/>
<line x1="330.3" y1="339.4" x2="539" y2="339.4" stroke="#ff0000" stroke-width="3.0"/>
</g>
<line x1="336.6" y1="314.5" x2="336.6" y2="439" stroke="#222" stroke-width="1"/>
<line x1="336.6" y1="375.5" x2="372.5" y2="393.4" stroke="#222" stroke-width="0.9"/>
<rect x="324.4" y="314.5" width="214.6" height="124.5" fill="none" stroke="#222" stroke-width="1.1"/>
<line x1="324.4" y1="439" x2="324.4" y2="436.5" stroke="#222" stroke-width="1"/>
<text x="324.4" y="449.8" text-anchor="middle" class="tk">0</text>
<line x1="378.05" y1="439" x2="378.05" y2="436.5" stroke="#222" stroke-width="1"/>
<text x="378.05" y="449.8" text-anchor="middle" class="tk">5</text>
<line x1="431.7" y1="439" x2="431.7" y2="436.5" stroke="#222" stroke-width="1"/>
<text x="431.7" y="449.8" text-anchor="middle" class="tk">10</text>
<line x1="485.35" y1="439" x2="485.35" y2="436.5" stroke="#222" stroke-width="1"/>
<text x="485.35" y="449.8" text-anchor="middle" class="tk">15</text>
<line x1="539" y1="439" x2="539" y2="436.5" stroke="#222" stroke-width="1"/>
<text x="539" y="449.8" text-anchor="middle" class="tk">20</text>
<line x1="324.4" y1="439" x2="326.9" y2="439" stroke="#222" stroke-width="1"/>
<text x="320.8" y="443.1" text-anchor="end" class="tk">−20</text>
<line x1="324.4" y1="414.1" x2="326.9" y2="414.1" stroke="#222" stroke-width="1"/>
<text x="320.8" y="418.2" text-anchor="end" class="tk">−15</text>
<line x1="324.4" y1="389.2" x2="326.9" y2="389.2" stroke="#222" stroke-width="1"/>
<text x="320.8" y="393.3" text-anchor="end" class="tk">−10</text>
<line x1="324.4" y1="364.3" x2="326.9" y2="364.3" stroke="#222" stroke-width="1"/>
<text x="320.8" y="368.4" text-anchor="end" class="tk">−5</text>
<line x1="324.4" y1="339.4" x2="326.9" y2="339.4" stroke="#222" stroke-width="1"/>
<text x="320.8" y="343.5" text-anchor="end" class="tk">0</text>
<line x1="324.4" y1="314.5" x2="326.9" y2="314.5" stroke="#222" stroke-width="1"/>
<text x="320.8" y="318.6" text-anchor="end" class="tk">5</text>
<text transform="translate(300.4 377.5) rotate(-90)" text-anchor="middle" class="yl">e<tspan class="sub" dy="1.2">35</tspan><tspan dy="-1.2">(N·m)</tspan></text>
<rect x="372.5" y="368.4" width="117.5" height="49.9" fill="#fff"/>
<clipPath id="c5"><rect x="372.5" y="368.4" width="117.5" height="49.9"/></clipPath>
<path clip-path="url(#c5)" d="M372.5 386.26 L373.09 386.6 L373.68 386.95 L374.26 387.29 L374.85 387.64 L375.44 387.99 L376.02 388.35 L376.61 388.71 L377.2 389.07 L377.79 389.43 L378.38 389.8 L378.96 390.17 L379.55 390.54 L380.14 390.92 L380.73 391.3 L381.31 391.68 L381.9 392.07 L382.49 392.45 L383.07 392.84 L383.66 393.23 L384.25 393.63 L384.84 394.02 L385.43 394.42 L386.01 394.82 L386.6 395.23 L387.19 395.64 L387.77 396.06 L388.36 396.5 L388.95 396.94 L389.54 397.38 L390.12 397.84 L390.71 398.29 L391.3 398.75 L391.89 399.2 L392.48 399.66 L393.06 400.11 L393.65 400.55 L394.24 400.99 L394.82 401.43 L395.41 401.85 L396 402.26 L396.59 402.65 L397.18 403.04 L397.76 403.45 L398.35 403.86 L398.94 404.27 L399.52 404.69 L400.11 405.11 L400.7 405.53 L401.29 405.94 L401.88 406.35 L402.46 406.74 L403.05 407.13 L403.64 407.49 L404.23 407.84 L404.81 408.17 L405.4 408.47 L405.99 408.75 L406.57 409 L407.16 409.22 L407.75 409.4 L408.34 409.54 L408.93 409.68 L409.51 409.81 L410.1 409.92 L410.69 410.02 L411.27 410.09 L411.86 410.12 L412.45 410.08 L413.04 409.96 L413.62 409.75 L414.21 409.47 L414.8 409.13 L415.39 408.74 L415.98 408.32 L416.56 407.71 L417.15 406.79 L417.74 405.66 L418.32 404.37 L418.91 403.01 L419.5 401.52 L420.09 399.73 L420.68 397.71 L421.26 395.55 L421.85 393.33 L422.44 391.15 L423.02 389.08 L423.61 387.2 L424.2 385.23 L424.79 383.1 L425.38 380.93 L425.96 378.85 L426.55 376.96 L427.14 375.38 L427.73 374.24 L428.31 373.65 L428.9 373.81 L429.49 374.93 L430.07 376.45 L430.66 377.8 L431.25 378.38 L431.84 378.38 L432.43 378.38 L433.01 378.38 L433.6 378.38 L434.19 378.38 L434.77 378.38 L435.36 378.38 L435.95 378.38 L436.54 378.38 L437.12 378.38 L437.71 378.38 L438.3 378.38 L438.89 378.38 L439.48 378.38 L440.06 378.38 L440.65 378.38 L441.24 378.38 L441.82 378.38 L442.41 378.38 L443 378.38 L443.59 378.38 L444.18 378.38 L444.76 378.38 L445.35 378.38 L445.94 378.38 L446.52 378.38 L447.11 378.38 L447.7 378.38 L448.29 378.38 L448.88 378.38 L449.46 378.38 L450.05 378.38 L450.64 378.38 L451.23 378.38 L451.81 378.38 L452.4 378.38 L452.99 378.38 L453.57 378.38 L454.16 378.38 L454.75 378.38 L455.34 378.38 L455.93 378.38 L456.51 378.38 L457.1 378.38 L457.69 378.38 L458.27 378.38 L458.86 378.38 L459.45 378.38 L460.04 378.38 L460.62 378.38 L461.21 378.38 L461.8 378.38 L462.39 378.38 L462.98 378.38 L463.56 378.38 L464.15 378.38 L464.74 378.38 L465.32 378.38 L465.91 378.38 L466.5 378.38 L467.09 378.38 L467.68 378.38 L468.26 378.38 L468.85 378.38 L469.44 378.38 L470.02 378.38 L470.61 378.38 L471.2 378.38 L471.79 378.38 L472.38 378.38 L472.96 378.38 L473.55 378.38 L474.14 378.38 L474.73 378.38 L475.31 378.38 L475.9 378.38 L476.49 378.38 L477.07 378.38 L477.66 378.38 L478.25 378.38 L478.84 378.38 L479.43 378.38 L480.01 378.38 L480.6 378.38 L481.19 378.38 L481.77 378.38 L482.36 378.38 L482.95 378.38 L483.54 378.38 L484.12 378.38 L484.71 378.38 L485.3 378.38 L485.89 378.38 L486.48 378.38 L487.06 378.38 L487.65 378.38 L488.24 378.38 L488.82 378.38 L489.41 378.38 L490 378.38" fill="none" stroke="#0000ff" stroke-width="2.6" stroke-dasharray="10 4.5" stroke-dashoffset="1.07" stroke-linejoin="round"/>
<path clip-path="url(#c5)" d="M372.5 386.26 L373.09 386.6 L373.68 386.95 L374.26 387.29 L374.85 387.64 L375.44 387.99 L376.02 388.35 L376.61 388.71 L377.2 389.07 L377.79 389.43 L378.38 389.8 L378.96 390.17 L379.55 390.54 L380.14 390.92 L380.73 391.3 L381.31 391.68 L381.9 392.07 L382.49 392.45 L383.07 392.84 L383.66 393.23 L384.25 393.63 L384.84 394.02 L385.43 394.42 L386.01 394.82 L386.6 395.23 L387.19 395.63 L387.77 396.05 L388.36 396.47 L388.95 396.89 L389.54 397.31 L390.12 397.74 L390.71 398.18 L391.3 398.62 L391.89 399.06 L392.48 399.5 L393.06 399.94 L393.65 400.39 L394.24 400.84 L394.82 401.29 L395.41 401.74 L396 402.19 L396.59 402.64 L397.18 403.1 L397.76 403.57 L398.35 404.07 L398.94 404.57 L399.52 405.09 L400.11 405.61 L400.7 406.13 L401.29 406.66 L401.88 407.19 L402.46 407.71 L403.05 408.22 L403.64 408.72 L404.23 409.2 L404.81 409.67 L405.4 410.12 L405.99 410.55 L406.57 410.95 L407.16 411.33 L407.75 411.67 L408.34 411.97 L408.93 412.28 L409.51 412.59 L410.1 412.9 L410.69 413.19 L411.27 413.47 L411.86 413.73 L412.45 413.95 L413.04 414.12 L413.62 414.24 L414.21 414.3 L414.8 414.27 L415.39 414.07 L415.98 413.71 L416.56 413.2 L417.15 412.57 L417.74 411.85 L418.32 411.05 L418.91 410.19 L419.5 409.3 L420.09 408.25 L420.68 406.8 L421.26 405.05 L421.85 403.11 L422.44 401.08 L423.02 399.07 L423.61 397.17 L424.2 395.27 L424.79 393.3 L425.38 391.33 L425.96 389.4 L426.55 387.56 L427.14 385.59 L427.73 383.42 L428.31 381.34 L428.9 379.62 L429.49 378.57 L430.07 378.38 L430.66 378.38 L431.25 378.38 L431.84 378.38 L432.43 378.38 L433.01 378.38 L433.6 378.38 L434.19 378.38 L434.77 378.38 L435.36 378.38 L435.95 378.38 L436.54 378.38 L437.12 378.38 L437.71 378.38 L438.3 378.38 L438.89 378.38 L439.48 378.38 L440.06 378.38 L440.65 378.38 L441.24 378.38 L441.82 378.38 L442.41 378.38 L443 378.38 L443.59 378.38 L444.18 378.38 L444.76 378.38 L445.35 378.38 L445.94 378.38 L446.52 378.38 L447.11 378.38 L447.7 378.38 L448.29 378.38 L448.88 378.38 L449.46 378.38 L450.05 378.38 L450.64 378.38 L451.23 378.38 L451.81 378.38 L452.4 378.38 L452.99 378.38 L453.57 378.38 L454.16 378.38 L454.75 378.38 L455.34 378.38 L455.93 378.38 L456.51 378.38 L457.1 378.38 L457.69 378.38 L458.27 378.38 L458.86 378.38 L459.45 378.38 L460.04 378.38 L460.62 378.38 L461.21 378.38 L461.8 378.38 L462.39 378.38 L462.98 378.38 L463.56 378.38 L464.15 378.38 L464.74 378.38 L465.32 378.38 L465.91 378.38 L466.5 378.38 L467.09 378.38 L467.68 378.38 L468.26 378.38 L468.85 378.38 L469.44 378.38 L470.02 378.38 L470.61 378.38 L471.2 378.38 L471.79 378.38 L472.38 378.38 L472.96 378.38 L473.55 378.38 L474.14 378.38 L474.73 378.38 L475.31 378.38 L475.9 378.38 L476.49 378.38 L477.07 378.38 L477.66 378.38 L478.25 378.38 L478.84 378.38 L479.43 378.38 L480.01 378.38 L480.6 378.38 L481.19 378.38 L481.77 378.38 L482.36 378.38 L482.95 378.38 L483.54 378.38 L484.12 378.38 L484.71 378.38 L485.3 378.38 L485.89 378.38 L486.48 378.38 L487.06 378.38 L487.65 378.38 L488.24 378.38 L488.82 378.38 L489.41 378.38 L490 378.38" fill="none" stroke="#ff0000" stroke-width="2.6" stroke-dasharray="16.8 4.6 2 4.8" stroke-dashoffset="27.76" stroke-linejoin="round"/>
<rect x="372.5" y="368.4" width="117.5" height="49.9" fill="none" stroke="#222" stroke-width="1.25"/>
<line x1="372.5" y1="418.3" x2="372.5" y2="415.3" stroke="#222" stroke-width="1"/>
<text x="372.5" y="428.7" text-anchor="middle" class="tk">0.0</text>
<line x1="396" y1="418.3" x2="396" y2="415.3" stroke="#222" stroke-width="1"/>
<text x="396" y="428.7" text-anchor="middle" class="tk">0.2</text>
<line x1="419.5" y1="418.3" x2="419.5" y2="415.3" stroke="#222" stroke-width="1"/>
<text x="419.5" y="428.7" text-anchor="middle" class="tk">0.4</text>
<line x1="443" y1="418.3" x2="443" y2="415.3" stroke="#222" stroke-width="1"/>
<text x="443" y="428.7" text-anchor="middle" class="tk">0.6</text>
<line x1="466.5" y1="418.3" x2="466.5" y2="415.3" stroke="#222" stroke-width="1"/>
<text x="466.5" y="428.7" text-anchor="middle" class="tk">0.8</text>
<line x1="490" y1="418.3" x2="490" y2="415.3" stroke="#222" stroke-width="1"/>
<text x="490" y="428.7" text-anchor="middle" class="tk">1.0</text>
<line x1="372.5" y1="418.3" x2="375.7" y2="418.3" stroke="#222" stroke-width="1"/>
<text x="368.5" y="422.3" text-anchor="end" class="tk">−20</text>
<line x1="372.5" y1="398.34" x2="375.7" y2="398.34" stroke="#222" stroke-width="1"/>
<text x="368.5" y="402.34" text-anchor="end" class="tk">−10</text>
<line x1="372.5" y1="378.38" x2="375.7" y2="378.38" stroke="#222" stroke-width="1"/>
<text x="368.5" y="382.38" text-anchor="end" class="tk">0</text>
</g>
<text x="146.5" y="463.6" text-anchor="middle" class="yl">t(s)</text>
<text x="430.7" y="463.6" text-anchor="middle" class="yl">t(s)</text>
<rect x="352.9" y="40.9" width="130.5" height="30.3" rx="2.2" fill="#fff" stroke="#111" stroke-width="1.3"/>
<line x1="355.3" y1="46.6" x2="377.8" y2="46.6" stroke="#ff0000" stroke-width="2.2" stroke-dasharray="16.3 4.3 1.9 10"/>
<line x1="355.3" y1="62.7" x2="377.8" y2="62.7" stroke="#0000ff" stroke-width="2.2" stroke-dasharray="9.4 4.2 9 10"/>
<text x="387.4" y="51.1" class="lg">RPTESO</text>
<text x="387.4" y="67.5" class="lg">nonadaptive PTESO</text>
</svg>
</body></html>
